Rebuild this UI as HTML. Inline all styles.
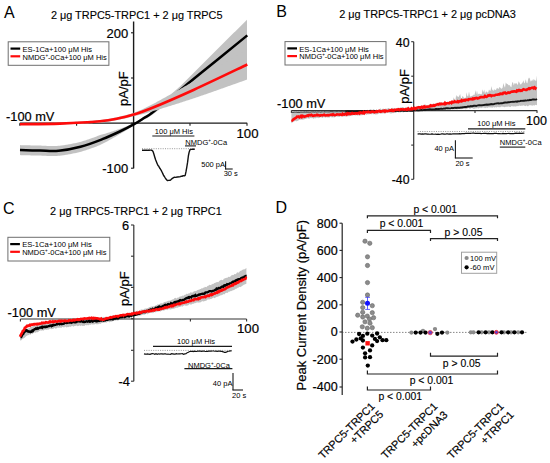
<!DOCTYPE html>
<html><head><meta charset="utf-8"><title>figure</title>
<style>html,body{margin:0;padding:0;background:#fff;width:550px;height:463px;overflow:hidden;font-family:"Liberation Sans",sans-serif}svg{display:block}</style>
</head><body>
<svg width="550" height="463" viewBox="0 0 550 463" font-family='"Liberation Sans", sans-serif'>
<rect width="550" height="463" fill="#fff"/>
<text x="4.00" y="17.50" font-size="16.00" text-anchor="start" fill="#000" stroke="#000" stroke-width="0.00" >A</text>
<text x="136.70" y="18.50" font-size="10.90" text-anchor="middle" fill="#000" stroke="#000" stroke-width="0.12" >2 μg TRPC5-TRPC1 + 2 μg TRPC5</text>
<path d="M20.00,145.10 L21.00,145.13 L22.00,145.15 L23.00,145.18 L24.00,145.21 L25.00,145.23 L26.00,145.26 L27.00,145.29 L28.00,145.32 L29.00,145.34 L30.00,145.37 L31.00,145.39 L32.00,145.42 L33.00,145.44 L34.00,145.47 L35.00,145.49 L36.00,145.52 L37.00,145.54 L38.00,145.56 L39.00,145.58 L40.00,145.60 L41.00,145.62 L42.00,145.65 L43.00,145.69 L44.00,145.74 L45.00,145.78 L46.00,145.83 L47.00,145.88 L48.00,145.93 L49.00,145.97 L50.00,146.01 L51.00,146.04 L52.00,146.05 L53.00,146.06 L54.00,146.05 L55.00,146.03 L56.00,145.99 L57.00,145.93 L58.00,145.86 L59.00,145.77 L60.00,145.67 L61.00,145.56 L62.00,145.44 L63.00,145.31 L64.00,145.17 L65.00,145.02 L66.00,144.87 L67.00,144.71 L68.00,144.54 L69.00,144.36 L70.00,144.18 L71.00,143.98 L72.00,143.79 L73.00,143.58 L74.00,143.37 L75.00,143.15 L76.00,142.92 L77.00,142.68 L78.00,142.44 L79.00,142.19 L80.00,141.93 L81.00,141.66 L82.00,141.39 L83.00,141.10 L84.00,140.80 L85.00,140.49 L86.00,140.17 L87.00,139.85 L88.00,139.51 L89.00,139.17 L90.00,138.82 L91.00,138.47 L92.00,138.11 L93.00,137.75 L94.00,137.38 L95.00,137.01 L96.00,136.63 L97.00,136.25 L98.00,135.87 L99.00,135.48 L100.00,135.09 L101.00,134.82 L102.00,134.55 L103.00,134.28 L104.00,134.00 L105.00,133.72 L106.00,133.42 L107.00,133.12 L108.00,132.82 L109.00,132.51 L110.00,132.19 L111.00,131.87 L112.00,131.54 L113.00,131.21 L114.00,130.87 L115.00,130.53 L116.00,130.18 L117.00,129.83 L118.00,129.48 L119.00,129.13 L120.00,128.78 L121.00,128.42 L122.00,128.06 L123.00,127.70 L124.00,127.32 L125.00,126.95 L126.00,126.56 L127.00,126.18 L128.00,125.78 L129.00,125.38 L130.00,124.97 L131.00,124.56 L132.00,124.13 L133.00,123.71 L134.00,123.21 L135.00,122.59 L136.00,121.94 L137.00,121.29 L138.00,120.61 L139.00,119.93 L140.00,119.23 L141.00,118.53 L142.00,117.82 L143.00,117.11 L144.00,116.40 L145.00,115.73 L146.00,115.18 L147.00,114.65 L148.00,113.97 L149.00,113.23 L150.00,112.44 L151.00,111.63 L152.00,110.81 L153.00,109.97 L154.00,109.13 L155.00,108.28 L156.00,107.43 L157.00,106.57 L158.00,105.71 L159.00,104.85 L160.00,103.98 L161.00,103.11 L162.00,102.24 L163.00,101.37 L164.00,100.50 L165.00,99.63 L166.00,98.76 L167.00,97.88 L168.00,97.01 L169.00,96.13 L170.00,95.25 L171.00,94.38 L172.00,93.50 L173.00,92.62 L174.00,91.74 L175.00,90.87 L176.00,89.99 L177.00,89.11 L178.00,88.23 L179.00,87.35 L180.00,86.47 L181.00,85.47 L182.00,84.47 L183.00,83.46 L184.00,82.46 L185.00,81.46 L186.00,80.45 L187.00,79.45 L188.00,78.45 L189.00,77.45 L190.00,76.44 L191.00,75.44 L192.00,74.44 L193.00,73.44 L194.00,72.44 L195.00,71.44 L196.00,70.44 L197.00,69.44 L198.00,68.44 L199.00,67.44 L200.00,66.44 L201.00,65.45 L202.00,64.45 L203.00,63.46 L204.00,62.46 L205.00,61.46 L206.00,60.47 L207.00,59.47 L208.00,58.48 L209.00,57.48 L210.00,56.49 L211.00,55.49 L212.00,54.50 L213.00,53.50 L214.00,52.51 L215.00,51.51 L216.00,50.52 L217.00,49.52 L218.00,48.53 L219.00,47.53 L220.00,46.54 L221.00,45.55 L222.00,44.55 L223.00,43.56 L224.00,42.56 L225.00,41.57 L226.00,40.57 L227.00,39.58 L228.00,38.59 L229.00,37.59 L230.00,36.60 L231.00,35.60 L232.00,34.61 L233.00,33.61 L234.00,32.62 L235.00,31.63 L236.00,30.63 L237.00,29.64 L238.00,28.65 L239.00,27.65 L240.00,26.66 L241.00,25.66 L242.00,24.67 L243.00,23.68 L244.00,22.68 L245.00,21.69 L246.00,20.69 L247.00,19.70 L247.00,64.64 L246.00,65.12 L245.00,65.59 L244.00,66.07 L243.00,66.55 L242.00,67.02 L241.00,67.50 L240.00,67.98 L239.00,68.46 L238.00,68.93 L237.00,69.41 L236.00,69.89 L235.00,70.37 L234.00,70.85 L233.00,71.32 L232.00,71.80 L231.00,72.28 L230.00,72.76 L229.00,73.24 L228.00,73.71 L227.00,74.19 L226.00,74.67 L225.00,75.14 L224.00,75.62 L223.00,76.10 L222.00,76.57 L221.00,77.05 L220.00,77.52 L219.00,78.00 L218.00,78.47 L217.00,78.95 L216.00,79.42 L215.00,79.90 L214.00,80.37 L213.00,80.84 L212.00,81.32 L211.00,81.79 L210.00,82.26 L209.00,82.73 L208.00,83.20 L207.00,83.67 L206.00,84.14 L205.00,84.61 L204.00,85.08 L203.00,85.54 L202.00,86.01 L201.00,86.47 L200.00,86.94 L199.00,87.40 L198.00,87.86 L197.00,88.33 L196.00,88.78 L195.00,89.24 L194.00,89.70 L193.00,90.15 L192.00,90.61 L191.00,91.06 L190.00,91.51 L189.00,91.96 L188.00,92.41 L187.00,92.86 L186.00,93.31 L185.00,93.75 L184.00,94.20 L183.00,94.64 L182.00,95.08 L181.00,95.53 L180.00,95.97 L179.00,96.41 L178.00,96.85 L177.00,97.29 L176.00,97.73 L175.00,98.16 L174.00,98.60 L173.00,99.21 L172.00,99.97 L171.00,100.73 L170.00,101.49 L169.00,102.25 L168.00,103.01 L167.00,103.77 L166.00,104.52 L165.00,105.28 L164.00,106.04 L163.00,106.79 L162.00,107.55 L161.00,108.30 L160.00,109.05 L159.00,109.80 L158.00,110.54 L157.00,111.29 L156.00,112.03 L155.00,112.77 L154.00,113.50 L153.00,114.22 L152.00,114.94 L151.00,115.65 L150.00,116.34 L149.00,117.01 L148.00,117.64 L147.00,118.20 L146.00,118.61 L145.00,119.05 L144.00,119.60 L143.00,120.19 L142.00,120.79 L141.00,121.38 L140.00,121.97 L139.00,122.55 L138.00,123.12 L137.00,123.67 L136.00,124.21 L135.00,124.74 L134.00,125.25 L133.00,125.87 L132.00,126.54 L131.00,127.20 L130.00,127.85 L129.00,128.49 L128.00,129.13 L127.00,129.77 L126.00,130.39 L125.00,131.01 L124.00,131.63 L123.00,132.24 L122.00,132.84 L121.00,133.44 L120.00,134.03 L119.00,134.62 L118.00,135.21 L117.00,135.80 L116.00,136.38 L115.00,136.97 L114.00,137.54 L113.00,138.12 L112.00,138.69 L111.00,139.26 L110.00,139.82 L109.00,140.37 L108.00,140.92 L107.00,141.46 L106.00,142.00 L105.00,142.53 L104.00,143.05 L103.00,143.57 L102.00,144.08 L101.00,144.59 L100.00,145.09 L99.00,145.48 L98.00,145.87 L97.00,146.25 L96.00,146.63 L95.00,147.01 L94.00,147.38 L93.00,147.75 L92.00,148.11 L91.00,148.47 L90.00,148.82 L89.00,149.17 L88.00,149.51 L87.00,149.85 L86.00,150.17 L85.00,150.49 L84.00,150.80 L83.00,151.10 L82.00,151.39 L81.00,151.66 L80.00,151.93 L79.00,152.19 L78.00,152.44 L77.00,152.68 L76.00,152.92 L75.00,153.15 L74.00,153.37 L73.00,153.58 L72.00,153.79 L71.00,153.98 L70.00,154.18 L69.00,154.36 L68.00,154.54 L67.00,154.71 L66.00,154.87 L65.00,155.02 L64.00,155.17 L63.00,155.31 L62.00,155.44 L61.00,155.56 L60.00,155.67 L59.00,155.77 L58.00,155.86 L57.00,155.93 L56.00,155.99 L55.00,156.03 L54.00,156.05 L53.00,156.06 L52.00,156.05 L51.00,156.04 L50.00,156.01 L49.00,155.97 L48.00,155.93 L47.00,155.88 L46.00,155.83 L45.00,155.78 L44.00,155.74 L43.00,155.69 L42.00,155.65 L41.00,155.62 L40.00,155.60 L39.00,155.58 L38.00,155.56 L37.00,155.54 L36.00,155.52 L35.00,155.49 L34.00,155.47 L33.00,155.44 L32.00,155.42 L31.00,155.39 L30.00,155.37 L29.00,155.34 L28.00,155.32 L27.00,155.29 L26.00,155.26 L25.00,155.23 L24.00,155.21 L23.00,155.18 L22.00,155.15 L21.00,155.13 L20.00,155.10 Z" stroke="none" stroke-width="0.00" fill="#c2c2c2" />
<line x1="133.60" y1="21.50" x2="133.60" y2="168.40" stroke="#1a1a1a" stroke-width="1.40" />
<line x1="131.00" y1="32.80" x2="133.60" y2="32.80" stroke="#1a1a1a" stroke-width="1.10" />
<line x1="131.00" y1="78.00" x2="133.60" y2="78.00" stroke="#1a1a1a" stroke-width="1.10" />
<line x1="131.00" y1="123.20" x2="133.60" y2="123.20" stroke="#1a1a1a" stroke-width="1.10" />
<line x1="131.00" y1="168.20" x2="133.60" y2="168.20" stroke="#1a1a1a" stroke-width="1.10" />
<line x1="19.80" y1="123.20" x2="247.20" y2="123.20" stroke="#1a1a1a" stroke-width="1.30" />
<line x1="19.80" y1="123.20" x2="19.80" y2="125.80" stroke="#1a1a1a" stroke-width="1.10" />
<line x1="76.60" y1="123.20" x2="76.60" y2="125.80" stroke="#1a1a1a" stroke-width="1.10" />
<line x1="190.00" y1="123.20" x2="190.00" y2="125.80" stroke="#1a1a1a" stroke-width="1.10" />
<line x1="247.00" y1="123.20" x2="247.00" y2="125.80" stroke="#1a1a1a" stroke-width="1.10" />
<text x="128.30" y="37.80" font-size="13.00" text-anchor="end" fill="#000" stroke="#000" stroke-width="0.20" >200</text>
<text x="128.30" y="173.20" font-size="13.00" text-anchor="end" fill="#000" stroke="#000" stroke-width="0.20" >-100</text>
<text x="6.00" y="120.50" font-size="12.80" text-anchor="start" fill="#000" stroke="#000" stroke-width="0.20" >-100 mV</text>
<text x="236.50" y="138.00" font-size="13.20" text-anchor="start" fill="#000" stroke="#000" stroke-width="0.20" >100</text>
<text transform="translate(127.8,106) rotate(-90)" font-size="13" stroke="#000" stroke-width="0.2">pA/pF</text>
<path d="M20.00,150.10 C23.33,150.18 33.55,150.48 40.00,150.60 C46.45,150.72 51.95,151.43 58.70,150.80 C65.45,150.17 73.23,148.73 80.50,146.80 C87.77,144.87 95.75,141.75 102.30,139.20 C108.85,136.65 114.57,133.97 119.80,131.50 C125.03,129.03 129.67,126.65 133.70,124.40 C137.73,122.15 140.55,120.23 144.00,118.00 C147.45,115.77 145.07,118.37 154.40,111.00 C163.73,103.63 184.52,86.40 200.00,73.80 C215.48,61.20 239.42,41.80 247.30,35.40" stroke="#000" stroke-width="2.50" fill="none" />
<path d="M20.00,123.60 L21.00,123.58 L22.00,123.56 L23.00,123.54 L24.00,123.52 L25.00,123.51 L26.00,123.49 L27.00,123.47 L28.00,123.46 L29.00,123.44 L30.00,123.42 L31.00,123.41 L32.00,123.39 L33.00,123.37 L34.00,123.35 L35.00,123.34 L36.00,123.32 L37.00,123.30 L38.00,123.28 L39.00,123.26 L40.00,123.24 L41.00,123.22 L42.00,123.20 L43.00,123.18 L44.00,123.15 L45.00,123.13 L46.00,123.11 L47.00,123.08 L48.00,123.06 L49.00,123.03 L50.00,123.00 L51.00,122.97 L52.00,122.94 L53.00,122.91 L54.00,122.88 L55.00,122.84 L56.00,122.81 L57.00,122.77 L58.00,122.73 L59.00,122.69 L60.00,122.65 L61.00,122.60 L62.00,122.56 L63.00,122.51 L64.00,122.46 L65.00,122.41 L66.00,122.36 L67.00,122.31 L68.00,122.26 L69.00,122.20 L70.00,122.15 L71.00,122.09 L72.00,122.04 L73.00,121.98 L74.00,121.92 L75.00,121.87 L76.00,121.81 L77.00,121.75 L78.00,121.68 L79.00,121.62 L80.00,121.56 L81.00,121.50 L82.00,121.43 L83.00,121.36 L84.00,121.30 L85.00,121.23 L86.00,121.16 L87.00,121.09 L88.00,121.01 L89.00,120.94 L90.00,120.86 L91.00,120.79 L92.00,120.71 L93.00,120.63 L94.00,120.55 L95.00,120.46 L96.00,120.37 L97.00,120.28 L98.00,120.19 L99.00,120.09 L100.00,120.00 L101.00,119.89 L102.00,119.78 L103.00,119.66 L104.00,119.54 L105.00,119.41 L106.00,119.27 L107.00,119.12 L108.00,118.96 L109.00,118.80 L110.00,118.63 L111.00,118.44 L112.00,118.25 L113.00,118.05 L114.00,117.84 L115.00,117.62 L116.00,117.40 L117.00,117.18 L118.00,116.95 L119.00,116.73 L120.00,116.52 L121.00,116.31 L122.00,116.09 L123.00,115.86 L124.00,115.63 L125.00,115.38 L126.00,115.13 L127.00,114.86 L128.00,114.59 L129.00,114.30 L130.00,114.01 L131.00,113.71 L132.00,113.40 L133.00,113.09 L134.00,112.74 L135.00,112.34 L136.00,111.96 L137.00,111.57 L138.00,111.18 L139.00,110.78 L140.00,110.37 L141.00,109.94 L142.00,109.49 L143.00,109.03 L144.00,108.56 L145.00,108.09 L146.00,107.60 L147.00,107.11 L148.00,106.61 L149.00,106.11 L150.00,105.60 L151.00,105.07 L152.00,104.53 L153.00,104.00 L154.00,103.46 L155.00,102.92 L156.00,102.38 L157.00,101.84 L158.00,101.29 L159.00,100.75 L160.00,100.21 L161.00,99.66 L162.00,99.11 L163.00,98.57 L164.00,98.02 L165.00,97.47 L166.00,96.92 L167.00,96.37 L168.00,95.82 L169.00,95.26 L170.00,94.71 L171.00,94.16 L172.00,93.60 L173.00,93.04 L174.00,92.49 L175.00,91.93 L176.00,91.37 L177.00,90.81 L178.00,90.25 L179.00,89.69 L180.00,89.13 L181.00,88.57 L182.00,88.00 L183.00,87.44 L184.00,86.87 L185.00,86.31 L186.00,85.74 L187.00,85.17 L188.00,84.60 L189.00,84.03 L190.00,83.46 L191.00,82.89 L192.00,82.31 L193.00,81.74 L194.00,81.16 L195.00,80.59 L196.00,80.01 L197.00,79.43 L198.00,78.84 L199.00,78.26 L200.00,77.68 L201.00,77.09 L202.00,76.50 L203.00,75.92 L204.00,75.33 L205.00,74.74 L206.00,74.15 L207.00,73.56 L208.00,72.97 L209.00,72.37 L210.00,71.78 L211.00,71.19 L212.00,70.60 L213.00,70.00 L214.00,69.41 L215.00,68.81 L216.00,68.22 L217.00,67.62 L218.00,67.03 L219.00,66.43 L220.00,65.83 L221.00,65.24 L222.00,64.64 L223.00,64.04 L224.00,63.45 L225.00,62.85 L226.00,62.25 L227.00,61.65 L228.00,61.05 L229.00,60.45 L230.00,59.86 L231.00,59.26 L232.00,58.66 L233.00,58.06 L234.00,57.46 L235.00,56.86 L236.00,56.26 L237.00,55.66 L238.00,55.06 L239.00,54.46 L240.00,53.86 L241.00,53.26 L242.00,52.67 L243.00,52.07 L244.00,51.47 L245.00,50.87 L246.00,50.27 L247.00,49.68 L247.00,79.61 L246.00,79.96 L245.00,80.31 L244.00,80.67 L243.00,81.02 L242.00,81.38 L241.00,81.74 L240.00,82.09 L239.00,82.45 L238.00,82.81 L237.00,83.16 L236.00,83.52 L235.00,83.88 L234.00,84.23 L233.00,84.59 L232.00,84.95 L231.00,85.30 L230.00,85.66 L229.00,86.02 L228.00,86.37 L227.00,86.73 L226.00,87.08 L225.00,87.44 L224.00,87.79 L223.00,88.15 L222.00,88.50 L221.00,88.86 L220.00,89.21 L219.00,89.57 L218.00,89.92 L217.00,90.27 L216.00,90.63 L215.00,90.98 L214.00,91.33 L213.00,91.68 L212.00,92.03 L211.00,92.39 L210.00,92.74 L209.00,93.08 L208.00,93.43 L207.00,93.78 L206.00,94.13 L205.00,94.48 L204.00,94.82 L203.00,95.17 L202.00,95.52 L201.00,95.86 L200.00,96.20 L199.00,96.55 L198.00,96.89 L197.00,97.23 L196.00,97.56 L195.00,97.90 L194.00,98.24 L193.00,98.57 L192.00,98.90 L191.00,99.23 L190.00,99.56 L189.00,99.89 L188.00,100.22 L187.00,100.55 L186.00,100.87 L185.00,101.20 L184.00,101.52 L183.00,101.84 L182.00,102.17 L181.00,102.49 L180.00,102.81 L179.00,103.13 L178.00,103.44 L177.00,103.76 L176.00,104.08 L175.00,104.39 L174.00,104.71 L173.00,105.02 L172.00,105.34 L171.00,105.65 L170.00,105.96 L169.00,106.27 L168.00,106.58 L167.00,106.89 L166.00,107.20 L165.00,107.51 L164.00,107.81 L163.00,108.12 L162.00,108.42 L161.00,108.73 L160.00,109.03 L159.00,109.33 L158.00,109.64 L157.00,109.94 L156.00,110.23 L155.00,110.53 L154.00,110.83 L153.00,111.12 L152.00,111.42 L151.00,111.71 L150.00,112.00 L149.00,112.31 L148.00,112.62 L147.00,112.92 L146.00,113.22 L145.00,113.51 L144.00,113.79 L143.00,114.07 L142.00,114.33 L141.00,114.58 L140.00,114.82 L139.00,115.04 L138.00,115.24 L137.00,115.43 L136.00,115.62 L135.00,115.82 L134.00,116.02 L133.00,116.28 L132.00,116.57 L131.00,116.86 L130.00,117.15 L129.00,117.42 L128.00,117.69 L127.00,117.95 L126.00,118.19 L125.00,118.43 L124.00,118.66 L123.00,118.87 L122.00,119.08 L121.00,119.28 L120.00,119.48 L119.00,119.68 L118.00,119.88 L117.00,120.08 L116.00,120.29 L115.00,120.49 L114.00,120.69 L113.00,120.88 L112.00,121.07 L111.00,121.24 L110.00,121.41 L109.00,121.57 L108.00,121.71 L107.00,121.85 L106.00,121.98 L105.00,122.10 L104.00,122.22 L103.00,122.32 L102.00,122.42 L101.00,122.52 L100.00,122.60 L99.00,122.69 L98.00,122.76 L97.00,122.84 L96.00,122.91 L95.00,122.98 L94.00,123.05 L93.00,123.11 L92.00,123.18 L91.00,123.24 L90.00,123.30 L89.00,123.36 L88.00,123.41 L87.00,123.47 L86.00,123.52 L85.00,123.57 L84.00,123.62 L83.00,123.67 L82.00,123.72 L81.00,123.77 L80.00,123.82 L79.00,123.86 L78.00,123.91 L77.00,123.95 L76.00,123.99 L75.00,124.03 L74.00,124.07 L73.00,124.11 L72.00,124.15 L71.00,124.19 L70.00,124.23 L69.00,124.27 L68.00,124.30 L67.00,124.34 L66.00,124.37 L65.00,124.40 L64.00,124.43 L63.00,124.46 L62.00,124.50 L61.00,124.52 L60.00,124.55 L59.00,124.58 L58.00,124.60 L57.00,124.62 L56.00,124.64 L55.00,124.66 L54.00,124.68 L53.00,124.69 L52.00,124.71 L51.00,124.72 L50.00,124.73 L49.00,124.74 L48.00,124.75 L47.00,124.76 L46.00,124.76 L45.00,124.77 L44.00,124.78 L43.00,124.78 L42.00,124.79 L41.00,124.79 L40.00,124.79 L39.00,124.79 L38.00,124.80 L37.00,124.80 L36.00,124.80 L35.00,124.80 L34.00,124.80 L33.00,124.80 L32.00,124.80 L31.00,124.80 L30.00,124.80 L29.00,124.80 L28.00,124.80 L27.00,124.80 L26.00,124.79 L25.00,124.79 L24.00,124.79 L23.00,124.79 L22.00,124.79 L21.00,124.80 L20.00,124.80 Z" stroke="none" stroke-width="0.00" fill="#c2c2c2" />
<path d="M20.00,124.20 C26.67,124.10 46.67,124.08 60.00,123.60 C73.33,123.12 90.00,122.23 100.00,121.30 C110.00,120.37 114.40,119.13 120.00,118.00 C125.60,116.87 128.60,116.03 133.60,114.50 C138.60,112.97 139.93,112.93 150.00,108.80 C160.07,104.67 177.78,97.08 194.00,89.70 C210.22,82.32 238.42,68.70 247.30,64.50" stroke="#ff0a0a" stroke-width="2.60" fill="none" />
<rect x="8.20" y="41.80" width="100.70" height="23.50" fill="#fff" stroke="#6e6e6e" stroke-width="1"/>
<line x1="10.50" y1="48.60" x2="20.20" y2="48.60" stroke="#000" stroke-width="2.20" />
<line x1="10.50" y1="56.30" x2="20.20" y2="56.30" stroke="#ff0a0a" stroke-width="2.20" />
<text x="22.50" y="51.80" font-size="7.60" text-anchor="start" fill="#000" stroke="#000" stroke-width="0.00" >ES-1Ca+100 μM His</text>
<text x="22.50" y="59.50" font-size="7.50" text-anchor="start" fill="#000" stroke="#000" stroke-width="0.00" >NMDG<tspan font-size="60%" dy="-3">+</tspan><tspan dy="3">-0Ca+100 μM His</tspan></text>
<text x="154.80" y="133.80" font-size="7.50" text-anchor="start" fill="#000" stroke="#000" stroke-width="0.00" >100 μM His</text>
<line x1="152.30" y1="136.00" x2="194.40" y2="136.00" stroke="#1a1a1a" stroke-width="1.10" />
<text x="185.30" y="144.60" font-size="7.50" text-anchor="start" fill="#000" stroke="#000" stroke-width="0.00" >NMDG<tspan font-size="60%" dy="-3">+</tspan><tspan dy="3">-0Ca</tspan></text>
<line x1="185.00" y1="145.90" x2="196.00" y2="145.90" stroke="#1a1a1a" stroke-width="1.10" />
<line x1="142.00" y1="148.70" x2="195.00" y2="148.70" stroke="#555" stroke-width="0.60" stroke-dasharray="1,1.3"/>
<path d="M142.00,150.21 L142.80,150.13 L143.60,150.38 L144.40,150.09 L145.20,150.32 L146.00,150.23 L146.80,150.08 L147.60,150.30 L148.40,150.07 L149.20,150.27 L150.00,150.08 L150.80,150.10 L151.60,150.26 L152.40,150.63 L153.20,151.94 L154.00,154.48 L154.80,157.18 L155.60,159.78 L156.40,161.68 L157.20,163.67 L158.00,165.54 L158.80,166.35 L159.60,168.03 L160.40,169.02 L161.20,170.41 L162.00,171.97 L162.80,173.64 L163.60,175.47 L164.40,176.50 L165.20,177.83 L166.00,178.98 L166.80,179.97 L167.60,180.62 L168.40,180.38 L169.20,180.38 L170.00,180.29 L170.80,179.87 L171.60,179.09 L172.40,178.37 L173.20,177.85 L174.00,177.34 L174.80,177.17 L175.60,177.33 L176.40,177.19 L177.20,176.87 L178.00,176.94 L178.80,176.82 L179.60,176.85 L180.40,176.61 L181.20,176.23 L182.00,176.41 L182.80,175.82 L183.60,175.80 L184.40,175.81 L185.20,175.35 L186.00,171.64 L186.80,167.02 L187.60,162.16 L188.40,155.75 L189.20,151.96 L190.00,149.68 L190.80,149.32 L191.60,149.43 L192.40,149.30 L193.20,149.22 L194.00,149.08 L194.80,149.19" stroke="#111" stroke-width="1.40" fill="none" stroke-linejoin="round"/>
<line x1="225.60" y1="161.20" x2="225.60" y2="169.20" stroke="#1a1a1a" stroke-width="1.10" />
<line x1="225.00" y1="169.00" x2="232.70" y2="169.00" stroke="#1a1a1a" stroke-width="1.10" />
<text x="225.00" y="167.20" font-size="7.50" text-anchor="end" fill="#000" stroke="#000" stroke-width="0.00" >500 pA</text>
<text x="223.70" y="176.30" font-size="7.50" text-anchor="start" fill="#000" stroke="#000" stroke-width="0.00" >30 s</text>
<text x="276.30" y="17.00" font-size="16.00" text-anchor="start" fill="#000" stroke="#000" stroke-width="0.00" >B</text>
<text x="427.60" y="18.40" font-size="10.90" text-anchor="middle" fill="#000" stroke="#000" stroke-width="0.12" >2 μg TRPC5-TRPC1 + 2 μg pcDNA3</text>
<path d="M291.40,113.30 L292.20,111.69 L293.00,113.34 L293.80,112.23 L294.60,112.35 L295.40,111.60 L296.20,111.92 L297.00,111.59 L297.80,113.02 L298.60,111.91 L299.40,112.98 L300.20,111.68 L301.00,112.21 L301.80,111.33 L302.60,112.32 L303.40,112.21 L304.20,111.35 L305.00,112.81 L305.80,111.93 L306.60,111.30 L307.40,111.46 L308.20,111.15 L309.00,111.78 L309.80,112.21 L310.60,111.72 L311.40,112.61 L312.20,111.94 L313.00,111.68 L313.80,111.34 L314.60,111.99 L315.40,111.08 L316.20,112.58 L317.00,111.67 L317.80,111.96 L318.60,111.39 L319.40,112.52 L320.20,112.30 L321.00,111.60 L321.80,111.46 L322.60,112.66 L323.40,112.71 L324.20,111.32 L325.00,111.28 L325.80,112.42 L326.60,112.33 L327.40,112.52 L328.20,111.73 L329.00,111.46 L329.80,111.57 L330.60,112.15 L331.40,111.10 L332.20,111.09 L333.00,112.00 L333.80,111.04 L334.60,111.96 L335.40,111.56 L336.20,111.15 L337.00,111.20 L337.80,111.51 L338.60,111.38 L339.40,112.36 L340.20,111.63 L341.00,110.75 L341.80,110.71 L342.60,111.54 L343.40,111.27 L344.20,112.08 L345.00,111.11 L345.80,111.57 L346.60,112.28 L347.40,111.54 L348.20,111.44 L349.00,112.31 L349.80,112.30 L350.60,112.26 L351.40,110.72 L352.20,110.88 L353.00,111.80 L353.80,111.62 L354.60,111.86 L355.40,111.93 L356.20,111.94 L357.00,110.88 L357.80,110.40 L358.60,110.03 L359.40,109.97 L360.20,110.80 L361.00,111.24 L361.80,110.24 L362.60,110.20 L363.40,111.29 L364.20,109.87 L365.00,110.80 L365.80,110.72 L366.60,111.12 L367.40,109.52 L368.20,110.87 L369.00,110.25 L369.80,109.43 L370.60,109.34 L371.40,109.45 L372.20,110.40 L373.00,109.30 L373.80,109.37 L374.60,109.85 L375.40,110.49 L376.20,109.53 L377.00,109.40 L377.80,110.40 L378.60,109.85 L379.40,109.15 L380.20,108.59 L381.00,108.70 L381.80,109.92 L382.60,108.73 L383.40,108.52 L384.20,109.92 L385.00,108.57 L385.80,108.71 L386.60,108.87 L387.40,108.87 L388.20,108.06 L389.00,107.89 L389.80,108.84 L390.60,108.92 L391.40,108.38 L392.20,107.89 L393.00,107.64 L393.80,108.64 L394.60,107.70 L395.40,108.90 L396.20,108.39 L397.00,108.53 L397.80,107.46 L398.60,108.67 L399.40,108.24 L400.20,107.06 L401.00,107.90 L401.80,107.06 L402.60,107.02 L403.40,107.20 L404.20,107.66 L405.00,107.95 L405.80,107.82 L406.60,107.06 L407.40,107.57 L408.20,106.97 L409.00,107.65 L409.80,107.21 L410.60,107.93 L411.40,107.95 L412.20,107.68 L413.00,106.63 L413.80,106.46 L414.60,106.91 L415.40,107.32 L416.20,106.99 L417.00,106.48 L417.80,106.36 L418.60,105.61 L419.40,106.75 L420.20,106.63 L421.00,106.28 L421.80,105.54 L422.60,105.81 L423.40,105.13 L424.20,106.01 L425.00,104.84 L425.80,104.61 L426.60,105.74 L427.40,105.67 L428.20,105.20 L429.00,104.59 L429.80,104.18 L430.60,103.77 L431.40,103.95 L432.20,103.77 L433.00,104.18 L433.80,103.35 L434.60,103.83 L435.40,104.61 L436.20,103.04 L437.00,102.73 L437.80,103.47 L438.60,103.07 L439.40,102.88 L440.20,102.58 L441.00,102.87 L441.80,102.23 L442.60,102.44 L443.40,103.13 L444.20,101.54 L445.00,102.21 L445.80,101.94 L446.60,102.65 L447.40,101.19 L448.20,102.10 L449.00,101.92 L449.80,101.62 L450.60,100.87 L451.40,100.80 L452.20,101.20 L453.00,99.98 L453.80,97.34 L454.60,99.99 L455.40,100.41 L456.20,94.67 L457.00,96.91 L457.80,96.07 L458.60,97.17 L459.40,95.49 L460.20,94.11 L461.00,98.22 L461.80,98.18 L462.60,95.70 L463.40,96.99 L464.20,98.54 L465.00,97.56 L465.80,97.97 L466.60,92.36 L467.40,96.31 L468.20,95.88 L469.00,91.58 L469.80,95.60 L470.60,96.68 L471.40,95.92 L472.20,95.71 L473.00,95.59 L473.80,94.41 L474.60,94.91 L475.40,90.07 L476.20,94.52 L477.00,90.57 L477.80,94.79 L478.60,93.87 L479.40,93.71 L480.20,93.94 L481.00,94.30 L481.80,94.05 L482.60,89.13 L483.40,92.62 L484.20,89.42 L485.00,93.64 L485.80,91.67 L486.60,91.59 L487.40,92.40 L488.20,92.61 L489.00,89.57 L489.80,90.78 L490.60,90.77 L491.40,85.93 L492.20,90.52 L493.00,89.32 L493.80,91.22 L494.60,89.09 L495.40,90.37 L496.20,89.38 L497.00,87.65 L497.80,88.41 L498.60,88.99 L499.40,87.07 L500.20,87.45 L501.00,88.42 L501.80,88.74 L502.60,87.84 L503.40,83.10 L504.20,86.09 L505.00,87.77 L505.80,82.62 L506.60,83.63 L507.40,83.91 L508.20,84.70 L509.00,85.47 L509.80,84.99 L510.60,86.69 L511.40,87.14 L512.20,82.34 L513.00,82.55 L513.80,85.53 L514.60,82.93 L515.40,83.86 L516.20,83.01 L517.00,84.08 L517.80,84.89 L518.60,81.26 L519.40,82.42 L520.20,84.34 L521.00,84.40 L521.80,83.16 L522.60,82.41 L523.40,80.18 L524.20,83.56 L525.00,82.15 L525.80,79.28 L526.60,82.97 L527.40,83.23 L528.20,78.97 L529.00,77.40 L529.80,78.40 L530.60,81.58 L531.40,80.95 L532.20,79.54 L533.00,81.31 L533.80,78.65 L534.60,80.34 L535.40,80.54 L536.20,81.08 L537.00,75.58 L537.00,105.29 L536.20,105.11 L535.40,104.80 L534.60,105.38 L533.80,105.52 L533.00,105.00 L532.20,105.96 L531.40,105.26 L530.60,105.17 L529.80,105.13 L529.00,105.19 L528.20,106.15 L527.40,106.22 L526.60,105.35 L525.80,106.35 L525.00,105.65 L524.20,105.85 L523.40,105.37 L522.60,105.84 L521.80,105.48 L521.00,105.94 L520.20,105.71 L519.40,105.50 L518.60,106.02 L517.80,106.30 L517.00,105.73 L516.20,106.54 L515.40,106.54 L514.60,106.33 L513.80,106.74 L513.00,106.05 L512.20,106.57 L511.40,105.93 L510.60,107.03 L509.80,106.91 L509.00,106.61 L508.20,106.47 L507.40,106.83 L506.60,106.65 L505.80,106.65 L505.00,107.05 L504.20,107.26 L503.40,106.63 L502.60,106.79 L501.80,106.45 L501.00,106.85 L500.20,107.37 L499.40,107.27 L498.60,107.28 L497.80,106.78 L497.00,107.32 L496.20,107.55 L495.40,107.10 L494.60,107.86 L493.80,106.78 L493.00,107.75 L492.20,107.59 L491.40,107.46 L490.60,107.58 L489.80,107.22 L489.00,107.42 L488.20,107.15 L487.40,107.95 L486.60,107.59 L485.80,107.72 L485.00,108.35 L484.20,107.60 L483.40,107.54 L482.60,107.38 L481.80,107.72 L481.00,108.35 L480.20,107.62 L479.40,107.96 L478.60,108.63 L477.80,107.55 L477.00,108.66 L476.20,107.98 L475.40,108.38 L474.60,108.76 L473.80,108.82 L473.00,108.68 L472.20,107.83 L471.40,108.07 L470.60,108.45 L469.80,108.90 L469.00,108.10 L468.20,108.00 L467.40,108.49 L466.60,108.97 L465.80,109.23 L465.00,109.21 L464.20,108.26 L463.40,108.49 L462.60,109.07 L461.80,108.91 L461.00,109.26 L460.20,108.76 L459.40,109.32 L458.60,108.97 L457.80,109.61 L457.00,109.35 L456.20,109.43 L455.40,109.19 L454.60,109.81 L453.80,108.71 L453.00,109.43 L452.20,108.91 L451.40,109.11 L450.60,109.62 L449.80,109.82 L449.00,109.47 L448.20,109.83 L447.40,109.63 L446.60,109.33 L445.80,110.07 L445.00,109.11 L444.20,110.23 L443.40,109.21 L442.60,110.37 L441.80,109.56 L441.00,110.34 L440.20,109.49 L439.40,109.45 L438.60,110.05 L437.80,110.35 L437.00,109.80 L436.20,109.94 L435.40,109.74 L434.60,110.69 L433.80,110.73 L433.00,109.88 L432.20,110.08 L431.40,110.93 L430.60,110.21 L429.80,110.95 L429.00,110.65 L428.20,110.79 L427.40,110.61 L426.60,110.74 L425.80,111.17 L425.00,110.68 L424.20,111.22 L423.40,110.26 L422.60,110.69 L421.80,111.41 L421.00,110.60 L420.20,111.40 L419.40,111.23 L418.60,110.75 L417.80,110.77 L417.00,110.45 L416.20,111.56 L415.40,111.58 L414.60,110.72 L413.80,110.77 L413.00,111.79 L412.20,111.25 L411.40,111.32 L410.60,112.01 L409.80,111.04 L409.00,111.57 L408.20,111.85 L407.40,111.15 L406.60,111.50 L405.80,111.37 L405.00,112.00 L404.20,111.89 L403.40,112.55 L402.60,112.31 L401.80,111.80 L401.00,112.35 L400.20,112.52 L399.40,112.26 L398.60,112.49 L397.80,111.92 L397.00,111.90 L396.20,112.74 L395.40,112.97 L394.60,112.64 L393.80,113.07 L393.00,113.23 L392.20,112.99 L391.40,113.46 L390.60,113.40 L389.80,113.30 L389.00,112.74 L388.20,112.57 L387.40,112.90 L386.60,112.88 L385.80,113.16 L385.00,113.13 L384.20,113.48 L383.40,113.20 L382.60,113.49 L381.80,113.34 L381.00,114.07 L380.20,113.43 L379.40,113.34 L378.60,113.73 L377.80,114.30 L377.00,114.19 L376.20,114.43 L375.40,114.47 L374.60,114.12 L373.80,114.49 L373.00,113.69 L372.20,114.33 L371.40,114.15 L370.60,113.91 L369.80,114.19 L369.00,114.29 L368.20,114.44 L367.40,114.17 L366.60,115.11 L365.80,114.30 L365.00,114.34 L364.20,115.01 L363.40,114.70 L362.60,114.96 L361.80,115.45 L361.00,114.70 L360.20,115.81 L359.40,115.44 L358.60,115.28 L357.80,115.68 L357.00,115.28 L356.20,115.13 L355.40,115.58 L354.60,115.32 L353.80,115.29 L353.00,115.36 L352.20,116.04 L351.40,115.38 L350.60,115.52 L349.80,116.08 L349.00,116.50 L348.20,116.06 L347.40,116.36 L346.60,116.31 L345.80,116.52 L345.00,116.58 L344.20,116.36 L343.40,116.40 L342.60,116.44 L341.80,116.02 L341.00,116.07 L340.20,116.52 L339.40,117.03 L338.60,116.67 L337.80,117.10 L337.00,116.36 L336.20,116.44 L335.40,117.12 L334.60,117.29 L333.80,117.38 L333.00,116.91 L332.20,117.47 L331.40,117.30 L330.60,116.52 L329.80,117.55 L329.00,117.62 L328.20,117.44 L327.40,117.43 L326.60,117.36 L325.80,117.39 L325.00,117.73 L324.20,116.93 L323.40,117.17 L322.60,117.89 L321.80,117.64 L321.00,116.88 L320.20,117.51 L319.40,117.94 L318.60,118.22 L317.80,117.52 L317.00,118.13 L316.20,117.59 L315.40,118.53 L314.60,118.09 L313.80,118.66 L313.00,118.59 L312.20,117.80 L311.40,118.32 L310.60,117.99 L309.80,118.22 L309.00,119.05 L308.20,118.20 L307.40,118.22 L306.60,118.49 L305.80,119.08 L305.00,118.87 L304.20,119.51 L303.40,119.57 L302.60,119.76 L301.80,119.55 L301.00,119.60 L300.20,119.75 L299.40,119.83 L298.60,120.25 L297.80,121.04 L297.00,120.84 L296.20,121.40 L295.40,120.82 L294.60,121.15 L293.80,121.38 L293.00,122.05 L292.20,122.83 L291.40,123.20 Z" stroke="none" stroke-width="0.00" fill="#c2c2c2" />
<line x1="413.70" y1="41.70" x2="413.70" y2="179.30" stroke="#333" stroke-width="1.20" />
<line x1="411.20" y1="41.70" x2="413.70" y2="41.70" stroke="#333" stroke-width="1.10" />
<line x1="411.20" y1="76.20" x2="413.70" y2="76.20" stroke="#333" stroke-width="1.10" />
<line x1="411.20" y1="110.60" x2="413.70" y2="110.60" stroke="#333" stroke-width="1.10" />
<line x1="411.20" y1="145.10" x2="413.70" y2="145.10" stroke="#333" stroke-width="1.10" />
<line x1="411.20" y1="179.30" x2="413.70" y2="179.30" stroke="#333" stroke-width="1.10" />
<line x1="291.40" y1="110.60" x2="537.20" y2="110.60" stroke="#333" stroke-width="1.10" />
<line x1="291.40" y1="110.60" x2="291.40" y2="113.00" stroke="#333" stroke-width="1.10" />
<line x1="352.50" y1="110.60" x2="352.50" y2="113.00" stroke="#333" stroke-width="1.10" />
<line x1="475.00" y1="110.60" x2="475.00" y2="113.00" stroke="#333" stroke-width="1.10" />
<line x1="537.00" y1="110.60" x2="537.00" y2="113.00" stroke="#333" stroke-width="1.10" />
<text x="409.50" y="46.60" font-size="12.30" text-anchor="end" fill="#000" stroke="#000" stroke-width="0.20" >40</text>
<text x="409.50" y="183.60" font-size="12.30" text-anchor="end" fill="#000" stroke="#000" stroke-width="0.20" >-40</text>
<text x="277.00" y="108.20" font-size="12.80" text-anchor="start" fill="#000" stroke="#000" stroke-width="0.20" >-100 mV</text>
<text x="526.00" y="125.30" font-size="12.50" text-anchor="start" fill="#000" stroke="#000" stroke-width="0.20" >100</text>
<text transform="translate(408.9,103.8) rotate(-90)" font-size="13" stroke="#000" stroke-width="0.2">pA/pF</text>
<path d="M345.00,111.46 L346.00,111.65 L347.00,111.48 L348.00,111.33 L349.00,111.60 L350.00,111.24 L351.00,111.61 L352.00,111.31 L353.00,111.49 L354.00,111.65 L355.00,111.44 L356.00,111.46 L357.00,111.28 L358.00,111.11 L359.00,111.11 L360.00,111.15 L361.00,111.37 L362.00,111.27 L363.00,111.29 L364.00,111.47 L365.00,111.08 L366.00,111.11 L367.00,111.31 L368.00,110.98 L369.00,110.96 L370.00,111.12 L371.00,110.98 L372.00,111.09 L373.00,111.01 L374.00,111.18 L375.00,111.17 L376.00,110.96 L377.00,111.16 L378.00,111.07 L379.00,110.89 L380.00,111.28 L381.00,110.92 L382.00,110.85 L383.00,110.81 L384.00,111.07 L385.00,111.18 L386.00,111.12 L387.00,110.91 L388.00,110.83 L389.00,110.69 L390.00,110.99 L391.00,110.94 L392.00,110.82 L393.00,110.95 L394.00,110.84 L395.00,111.07 L396.00,110.96 L397.00,110.70 L398.00,111.01 L399.00,110.57 L400.00,110.80 L401.00,110.73 L402.00,110.63 L403.00,110.52 L404.00,110.87 L405.00,110.47 L406.00,110.73 L407.00,110.91 L408.00,110.50 L409.00,110.51 L410.00,110.70 L411.00,110.64 L412.00,110.69 L413.00,110.77 L414.00,110.42 L415.00,110.42 L416.00,110.35 L417.00,110.15 L418.00,110.51 L419.00,110.39 L420.00,110.29 L421.00,109.86 L422.00,110.22 L423.00,110.10 L424.00,109.89 L425.00,109.96 L426.00,109.75 L427.00,109.57 L428.00,109.45 L429.00,109.44 L430.00,109.28 L431.00,109.36 L432.00,109.50 L433.00,109.41 L434.00,109.41 L435.00,109.28 L436.00,108.99 L437.00,109.07 L438.00,108.94 L439.00,109.05 L440.00,108.85 L441.00,108.65 L442.00,108.78 L443.00,108.87 L444.00,108.43 L445.00,108.69 L446.00,108.19 L447.00,108.25 L448.00,108.17 L449.00,108.36 L450.00,108.39 L451.00,108.23 L452.00,107.95 L453.00,108.16 L454.00,107.82 L455.00,107.70 L456.00,107.97 L457.00,107.77 L458.00,107.73 L459.00,107.65 L460.00,107.74 L461.00,107.38 L462.00,107.46 L463.00,107.28 L464.00,107.25 L465.00,106.94 L466.00,106.97 L467.00,106.79 L468.00,106.55 L469.00,106.40 L470.00,106.50 L471.00,106.12 L472.00,106.43 L473.00,105.94 L474.00,105.77 L475.00,105.71 L476.00,106.01 L477.00,105.61 L478.00,105.40 L479.00,105.24 L480.00,105.14 L481.00,105.36 L482.00,105.22 L483.00,105.15 L484.00,105.06 L485.00,104.62 L486.00,104.78 L487.00,104.56 L488.00,104.68 L489.00,104.57 L490.00,104.50 L491.00,103.98 L492.00,104.28 L493.00,104.19 L494.00,104.10 L495.00,103.58 L496.00,103.52 L497.00,103.37 L498.00,103.22 L499.00,103.52 L500.00,103.40 L501.00,103.20 L502.00,103.19 L503.00,102.99 L504.00,102.71 L505.00,102.51 L506.00,102.40 L507.00,102.62 L508.00,102.24 L509.00,102.19 L510.00,102.14 L511.00,101.83 L512.00,101.84 L513.00,101.75 L514.00,101.86 L515.00,101.58 L516.00,101.45 L517.00,101.66 L518.00,101.33 L519.00,101.39 L520.00,101.17 L521.00,100.77 L522.00,100.85 L523.00,100.76 L524.00,100.82 L525.00,100.50 L526.00,100.57 L527.00,100.38 L528.00,100.12 L529.00,100.33 L530.00,99.84 L531.00,100.10 L532.00,99.67 L533.00,99.48 L534.00,99.47 L535.00,99.64 L536.00,99.65 L537.00,99.05" stroke="#151515" stroke-width="1.90" fill="none" />
<path d="M291.40,112.30 L292.40,112.28 L293.40,112.39 L294.40,112.13 L295.40,112.24 L296.40,112.17 L297.40,112.35 L298.40,112.10 L299.40,112.36 L300.40,112.08 L301.40,112.04 L302.40,112.22 L303.40,112.13 L304.40,111.96 L305.40,112.15 L306.40,111.92 L307.40,112.18 L308.40,112.13 L309.40,112.16 L310.40,112.08 L311.40,111.95 L312.40,111.96 L313.40,111.94 L314.40,112.12 L315.40,111.79 L316.40,112.10 L317.40,111.74 L318.40,111.79 L319.40,111.80 L320.40,112.04 L321.40,111.87 L322.40,111.81 L323.40,111.99 L324.40,111.72 L325.40,111.79 L326.40,111.81 L327.40,111.88 L328.40,111.87 L329.40,111.81 L330.40,111.68 L331.40,111.65 L332.40,111.57 L333.40,111.83 L334.40,111.75 L335.40,111.76 L336.40,111.52 L337.40,111.61 L338.40,111.73 L339.40,111.64 L340.40,111.44 L341.40,111.57 L342.40,111.72 L343.40,111.45 L344.40,111.42 L345.40,111.45" stroke="#555" stroke-width="1.20" fill="none" />
<path d="M291.40,120.06 L292.20,120.45 L293.00,119.75 L293.80,119.11 L294.60,118.59 L295.40,118.05 L296.20,117.67 L297.00,116.56 L297.80,116.68 L298.60,116.41 L299.40,117.34 L300.20,116.93 L301.00,116.02 L301.80,117.05 L302.60,115.84 L303.40,116.11 L304.20,116.80 L305.00,116.46 L305.80,116.29 L306.60,115.81 L307.40,115.41 L308.20,115.89 L309.00,115.10 L309.80,115.14 L310.60,115.33 L311.40,114.85 L312.20,115.30 L313.00,115.78 L313.80,115.62 L314.60,115.35 L315.40,115.49 L316.20,115.25 L317.00,114.80 L317.80,115.37 L318.60,115.09 L319.40,115.50 L320.20,115.69 L321.00,115.04 L321.80,115.20 L322.60,115.40 L323.40,114.95 L324.20,114.67 L325.00,115.29 L325.80,115.47 L326.60,115.30 L327.40,115.18 L328.20,115.35 L329.00,115.10 L329.80,115.02 L330.60,114.75 L331.40,114.54 L332.20,114.93 L333.00,114.21 L333.80,114.60 L334.60,115.05 L335.40,114.93 L336.20,114.80 L337.00,114.28 L337.80,114.47 L338.60,114.49 L339.40,114.68 L340.20,114.37 L341.00,114.65 L341.80,114.92 L342.60,113.88 L343.40,114.43 L344.20,114.53 L345.00,113.96 L345.80,114.03 L346.60,114.59 L347.40,113.31 L348.20,113.90 L349.00,113.34 L349.80,114.09 L350.60,114.23 L351.40,113.62 L352.20,113.01 L353.00,113.56 L353.80,113.46 L354.60,113.62 L355.40,113.29 L356.20,113.39 L357.00,113.58 L357.80,113.11 L358.60,112.91 L359.40,113.54 L360.20,112.52 L361.00,113.07 L361.80,112.63 L362.60,113.05 L363.40,112.15 L364.20,113.21 L365.00,112.33 L365.80,111.87 L366.60,112.09 L367.40,112.19 L368.20,111.63 L369.00,112.09 L369.80,112.03 L370.60,112.33 L371.40,111.81 L372.20,111.64 L373.00,111.52 L373.80,112.13 L374.60,112.32 L375.40,111.72 L376.20,111.26 L377.00,111.95 L377.80,111.36 L378.60,111.06 L379.40,110.89 L380.20,111.67 L381.00,111.64 L381.80,111.35 L382.60,111.08 L383.40,111.13 L384.20,110.63 L385.00,111.53 L385.80,110.67 L386.60,110.98 L387.40,111.15 L388.20,111.08 L389.00,110.57 L389.80,110.28 L390.60,110.54 L391.40,109.93 L392.20,110.79 L393.00,110.10 L393.80,110.68 L394.60,109.86 L395.40,109.94 L396.20,109.71 L397.00,109.88 L397.80,109.50 L398.60,109.20 L399.40,110.07 L400.20,109.43 L401.00,109.32 L401.80,109.33 L402.60,109.50 L403.40,109.37 L404.20,109.58 L405.00,109.54 L405.80,109.09 L406.60,109.77 L407.40,109.61 L408.20,108.51 L409.00,109.44 L409.80,109.48 L410.60,109.26 L411.40,108.36 L412.20,109.19 L413.00,108.87 L413.80,107.94 L414.60,107.81 L415.40,108.90 L416.20,108.39 L417.00,107.73 L417.80,107.41 L418.60,107.33 L419.40,107.32 L420.20,107.90 L421.00,107.21 L421.80,106.83 L422.60,107.68 L423.40,107.40 L424.20,106.46 L425.00,107.27 L425.80,106.78 L426.60,106.87 L427.40,106.60 L428.20,106.76 L429.00,106.49 L429.80,106.43 L430.60,105.47 L431.40,105.98 L432.20,105.64 L433.00,105.79 L433.80,105.26 L434.60,105.71 L435.40,105.16 L436.20,104.65 L437.00,104.48 L437.80,104.23 L438.60,104.56 L439.40,103.87 L440.20,104.27 L441.00,103.72 L441.80,104.04 L442.60,103.92 L443.40,103.85 L444.20,104.14 L445.00,102.89 L445.80,103.85 L446.60,103.24 L447.40,103.23 L448.20,103.23 L449.00,103.33 L449.80,102.60 L450.60,102.53 L451.40,103.10 L452.20,101.82 L453.00,102.42 L453.80,102.29 L454.60,101.37 L455.40,102.00 L456.20,101.97 L457.00,102.16 L457.80,101.24 L458.60,101.94 L459.40,101.19 L460.20,101.02 L461.00,101.41 L461.80,100.15 L462.60,100.90 L463.40,100.63 L464.20,100.12 L465.00,100.66 L465.80,99.88 L466.60,99.87 L467.40,99.80 L468.20,99.98 L469.00,99.11 L469.80,99.26 L470.60,99.10 L471.40,99.13 L472.20,99.35 L473.00,98.51 L473.80,99.07 L474.60,98.37 L475.40,98.36 L476.20,97.92 L477.00,98.08 L477.80,98.55 L478.60,97.99 L479.40,98.03 L480.20,97.29 L481.00,97.13 L481.80,96.97 L482.60,97.20 L483.40,97.12 L484.20,97.18 L485.00,96.07 L485.80,96.81 L486.60,96.88 L487.40,96.30 L488.20,95.52 L489.00,95.70 L489.80,95.18 L490.60,95.27 L491.40,96.08 L492.20,95.54 L493.00,95.46 L493.80,95.49 L494.60,95.51 L495.40,94.98 L496.20,94.84 L497.00,94.71 L497.80,94.66 L498.60,94.39 L499.40,94.36 L500.20,93.61 L501.00,94.06 L501.80,93.65 L502.60,93.90 L503.40,92.90 L504.20,92.87 L505.00,92.54 L505.80,93.36 L506.60,93.40 L507.40,92.92 L508.20,92.41 L509.00,92.85 L509.80,92.67 L510.60,92.23 L511.40,91.70 L512.20,91.61 L513.00,91.63 L513.80,91.35 L514.60,91.36 L515.40,91.49 L516.20,91.73 L517.00,90.45 L517.80,90.97 L518.60,90.14 L519.40,90.11 L520.20,90.86 L521.00,90.42 L521.80,90.72 L522.60,89.97 L523.40,89.27 L524.20,89.61 L525.00,89.73 L525.80,90.04 L526.60,89.96 L527.40,89.16 L528.20,88.94 L529.00,88.39 L529.80,88.96 L530.60,88.25 L531.40,88.03 L532.20,87.72 L533.00,87.56 L533.80,88.30 L534.60,87.43 L535.40,88.39 L536.20,87.11" stroke="#ff0a0a" stroke-width="2.60" fill="none" />
<rect x="285.00" y="41.60" width="101.00" height="23.40" fill="#fff" stroke="#6e6e6e" stroke-width="1"/>
<line x1="287.30" y1="48.40" x2="297.00" y2="48.40" stroke="#000" stroke-width="2.20" />
<line x1="287.30" y1="56.10" x2="297.00" y2="56.10" stroke="#ff0a0a" stroke-width="2.20" />
<text x="299.30" y="51.60" font-size="7.60" text-anchor="start" fill="#000" stroke="#000" stroke-width="0.00" >ES-1Ca+100 μM His</text>
<text x="299.30" y="59.30" font-size="7.50" text-anchor="start" fill="#000" stroke="#000" stroke-width="0.00" >NMDG<tspan font-size="60%" dy="-3">+</tspan><tspan dy="3">-0Ca+100 μM His</tspan></text>
<text x="477.30" y="126.30" font-size="7.50" text-anchor="start" fill="#000" stroke="#000" stroke-width="0.00" >100 μM His</text>
<line x1="468.00" y1="128.90" x2="525.30" y2="128.90" stroke="#1a1a1a" stroke-width="1.10" />
<line x1="417.60" y1="131.50" x2="525.00" y2="131.50" stroke="#555" stroke-width="0.60" stroke-dasharray="1,1.3"/>
<path d="M417.60,134.15 L418.80,133.86 L420.00,133.83 L421.20,134.12 L422.40,133.94 L423.60,134.15 L424.80,133.94 L426.00,133.90 L427.20,134.20 L428.40,134.18 L429.60,134.25 L430.80,134.21 L432.00,133.96 L433.20,134.19 L434.40,134.23 L435.60,134.14 L436.80,134.34 L438.00,134.08 L439.20,134.38 L440.40,134.28 L441.60,133.97 L442.80,133.95 L444.00,134.18 L445.20,134.22 L446.40,133.90 L447.60,133.97 L448.80,134.12 L450.00,133.87 L451.20,134.12 L452.40,133.95 L453.60,133.75 L454.80,133.85 L456.00,133.91 L457.20,133.83 L458.40,133.90 L459.60,133.67 L460.80,133.87 L462.00,133.63 L463.20,133.67 L464.40,133.59 L465.60,133.43 L466.80,133.35 L468.00,133.43 L469.20,133.43 L470.40,133.32 L471.60,133.25 L472.80,133.15 L474.00,133.08 L475.20,133.46 L476.40,133.37 L477.60,133.43 L478.80,133.25 L480.00,133.38 L481.20,133.54 L482.40,133.50 L483.60,133.42 L484.80,133.32 L486.00,133.38 L487.20,133.58 L488.40,133.40 L489.60,133.54 L490.80,133.52 L492.00,133.65 L493.20,133.63 L494.40,133.44 L495.60,133.34 L496.80,133.46 L498.00,133.54 L499.20,133.62 L500.40,133.72 L501.60,133.73 L502.80,133.37 L504.00,133.67 L505.20,133.64 L506.40,133.64 L507.60,133.51 L508.80,133.37 L510.00,133.58 L511.20,133.54 L512.40,133.48 L513.60,133.55 L514.80,133.30 L516.00,133.18 L517.20,133.35 L518.40,133.42 L519.60,133.17 L520.80,133.37 L522.00,133.42 L523.20,133.12 L524.40,133.25" stroke="#111" stroke-width="1.20" fill="none" />
<text x="499.80" y="144.90" font-size="7.50" text-anchor="start" fill="#000" stroke="#000" stroke-width="0.00" >NMDG<tspan font-size="60%" dy="-3">+</tspan><tspan dy="3">-0Ca</tspan></text>
<line x1="499.80" y1="147.10" x2="525.30" y2="147.10" stroke="#1a1a1a" stroke-width="1.10" />
<line x1="455.40" y1="140.20" x2="455.40" y2="158.30" stroke="#1a1a1a" stroke-width="1.10" />
<line x1="454.90" y1="158.00" x2="472.70" y2="158.00" stroke="#1a1a1a" stroke-width="1.10" />
<text x="454.00" y="151.20" font-size="7.50" text-anchor="end" fill="#000" stroke="#000" stroke-width="0.00" >40 pA</text>
<text x="455.40" y="166.00" font-size="7.50" text-anchor="start" fill="#000" stroke="#000" stroke-width="0.00" >20 s</text>
<text x="3.00" y="214.00" font-size="16.00" text-anchor="start" fill="#000" stroke="#000" stroke-width="0.00" >C</text>
<text x="135.90" y="214.50" font-size="10.90" text-anchor="middle" fill="#000" stroke="#000" stroke-width="0.12" >2 μg TRPC5-TRPC1 + 2 μg TRPC1</text>
<path d="M20.00,334.21 L20.80,333.06 L21.60,333.08 L22.40,332.09 L23.20,331.88 L24.00,330.59 L24.80,330.82 L25.60,329.83 L26.40,329.41 L27.20,328.47 L28.00,328.66 L28.80,328.10 L29.60,327.69 L30.40,326.79 L31.20,326.86 L32.00,326.84 L32.80,325.94 L33.60,325.84 L34.40,325.14 L35.20,326.00 L36.00,325.11 L36.80,324.57 L37.60,324.51 L38.40,324.67 L39.20,324.68 L40.00,323.36 L40.80,323.33 L41.60,322.98 L42.40,323.78 L43.20,323.71 L44.00,322.48 L44.80,322.73 L45.60,323.26 L46.40,322.64 L47.20,322.98 L48.00,322.17 L48.80,321.77 L49.60,322.65 L50.40,321.39 L51.20,321.66 L52.00,322.22 L52.80,321.10 L53.60,321.80 L54.40,322.04 L55.20,320.94 L56.00,321.81 L56.80,320.96 L57.60,321.43 L58.40,320.83 L59.20,320.52 L60.00,320.50 L60.80,320.40 L61.60,320.17 L62.40,320.32 L63.20,321.13 L64.00,321.07 L64.80,320.95 L65.60,320.35 L66.40,320.87 L67.20,320.44 L68.00,320.03 L68.80,320.13 L69.60,319.67 L70.40,319.50 L71.20,320.04 L72.00,320.36 L72.80,319.75 L73.60,319.52 L74.40,319.53 L75.20,319.66 L76.00,320.09 L76.80,320.12 L77.60,319.96 L78.40,319.08 L79.20,319.11 L80.00,318.94 L80.80,319.83 L81.60,319.69 L82.40,318.86 L83.20,318.52 L84.00,318.74 L84.80,318.35 L85.60,318.67 L86.40,318.20 L87.20,318.76 L88.00,318.59 L88.80,318.26 L89.60,318.09 L90.40,318.78 L91.20,318.02 L92.00,317.82 L92.80,318.24 L93.60,317.82 L94.40,318.34 L95.20,318.12 L96.00,317.41 L96.80,317.74 L97.60,317.24 L98.40,317.48 L99.20,318.03 L100.00,316.92 L100.80,317.38 L101.60,317.03 L102.40,317.61 L103.20,316.72 L104.00,317.14 L104.80,316.96 L105.60,316.86 L106.40,317.00 L107.20,317.09 L108.00,316.81 L108.80,316.76 L109.60,316.81 L110.40,316.26 L111.20,316.21 L112.00,315.49 L112.80,315.64 L113.60,315.39 L114.40,316.14 L115.20,315.16 L116.00,315.17 L116.80,315.54 L117.60,315.33 L118.40,314.71 L119.20,315.32 L120.00,314.48 L120.80,314.80 L121.60,314.21 L122.40,314.09 L123.20,314.81 L124.00,314.32 L124.80,313.67 L125.60,314.44 L126.40,313.66 L127.20,313.62 L128.00,313.94 L128.80,313.05 L129.60,312.86 L130.40,313.45 L131.20,313.18 L132.00,312.91 L132.80,312.32 L133.60,312.62 L134.40,311.80 L135.20,311.53 L136.00,310.96 L136.80,311.27 L137.60,310.61 L138.40,311.15 L139.20,310.75 L140.00,310.82 L140.80,309.57 L141.60,309.61 L142.40,309.38 L143.20,309.92 L144.00,308.87 L144.80,308.84 L145.60,308.41 L146.40,308.59 L147.20,308.27 L148.00,307.92 L148.80,307.60 L149.60,306.96 L150.40,306.68 L151.20,306.74 L152.00,306.28 L152.80,306.38 L153.60,306.18 L154.40,305.96 L155.20,305.76 L156.00,305.29 L156.80,304.92 L157.60,304.37 L158.40,304.42 L159.20,304.23 L160.00,303.67 L160.80,303.25 L161.60,303.27 L162.40,303.59 L163.20,303.05 L164.00,301.92 L164.80,302.08 L165.60,301.73 L166.40,301.86 L167.20,300.97 L168.00,301.30 L168.80,300.53 L169.60,300.65 L170.40,300.57 L171.20,299.88 L172.00,299.87 L172.80,299.26 L173.60,299.25 L174.40,298.27 L175.20,297.83 L176.00,298.24 L176.80,298.41 L177.60,297.47 L178.40,297.72 L179.20,296.84 L180.00,296.64 L180.80,296.15 L181.60,296.17 L182.40,295.60 L183.20,295.93 L184.00,295.15 L184.80,294.69 L185.60,294.71 L186.40,293.83 L187.20,293.81 L188.00,294.13 L188.80,293.07 L189.60,293.61 L190.40,292.27 L191.20,292.51 L192.00,292.54 L192.80,292.50 L193.60,291.62 L194.40,291.15 L195.20,291.09 L196.00,291.20 L196.80,290.39 L197.60,289.89 L198.40,289.81 L199.20,289.87 L200.00,289.09 L200.80,288.94 L201.60,288.28 L202.40,288.53 L203.20,287.62 L204.00,287.91 L204.80,286.73 L205.60,287.10 L206.40,287.14 L207.20,286.13 L208.00,285.65 L208.80,285.58 L209.60,284.87 L210.40,285.04 L211.20,285.18 L212.00,283.71 L212.80,284.27 L213.60,283.82 L214.40,283.02 L215.20,283.02 L216.00,282.21 L216.80,282.30 L217.60,282.06 L218.40,282.13 L219.20,281.08 L220.00,280.42 L220.80,280.00 L221.60,279.72 L222.40,280.14 L223.20,279.76 L224.00,278.44 L224.80,278.45 L225.60,278.12 L226.40,277.64 L227.20,278.03 L228.00,277.00 L228.80,276.67 L229.60,276.90 L230.40,276.60 L231.20,275.82 L232.00,274.75 L232.80,275.34 L233.60,275.01 L234.40,273.92 L235.20,274.32 L236.00,273.92 L236.80,272.87 L237.60,272.28 L238.40,272.68 L239.20,272.20 L240.00,271.07 L240.80,270.70 L241.60,270.43 L242.40,269.84 L243.20,269.78 L244.00,269.01 L244.80,269.53 L245.60,268.46 L246.40,268.12 L246.40,283.65 L245.60,283.96 L244.80,284.52 L244.00,284.62 L243.20,285.33 L242.40,285.86 L241.60,286.28 L240.80,287.15 L240.00,286.79 L239.20,287.03 L238.40,287.70 L237.60,287.86 L236.80,288.73 L236.00,288.53 L235.20,289.21 L234.40,289.71 L233.60,290.33 L232.80,290.10 L232.00,291.20 L231.20,290.75 L230.40,291.33 L229.60,291.86 L228.80,291.58 L228.00,292.41 L227.20,292.91 L226.40,292.68 L225.60,293.10 L224.80,294.10 L224.00,294.50 L223.20,293.98 L222.40,294.97 L221.60,295.18 L220.80,294.99 L220.00,296.09 L219.20,295.63 L218.40,296.48 L217.60,296.72 L216.80,296.69 L216.00,297.25 L215.20,297.73 L214.40,298.21 L213.60,297.47 L212.80,298.09 L212.00,298.47 L211.20,298.99 L210.40,298.90 L209.60,299.48 L208.80,299.18 L208.00,299.81 L207.20,299.62 L206.40,300.72 L205.60,300.87 L204.80,301.18 L204.00,300.95 L203.20,301.72 L202.40,300.97 L201.60,301.62 L200.80,302.39 L200.00,301.93 L199.20,302.77 L198.40,302.51 L197.60,302.51 L196.80,302.34 L196.00,303.24 L195.20,303.05 L194.40,303.25 L193.60,303.85 L192.80,303.84 L192.00,304.06 L191.20,304.71 L190.40,304.48 L189.60,304.00 L188.80,304.69 L188.00,305.52 L187.20,305.57 L186.40,305.85 L185.60,305.63 L184.80,305.30 L184.00,305.53 L183.20,306.10 L182.40,306.63 L181.60,306.33 L180.80,306.52 L180.00,307.11 L179.20,306.97 L178.40,307.34 L177.60,307.74 L176.80,307.67 L176.00,307.76 L175.20,308.27 L174.40,308.58 L173.60,308.82 L172.80,308.85 L172.00,309.00 L171.20,309.15 L170.40,309.43 L169.60,309.36 L168.80,309.22 L168.00,309.16 L167.20,310.30 L166.40,309.45 L165.60,310.02 L164.80,309.74 L164.00,310.88 L163.20,310.19 L162.40,310.52 L161.60,310.68 L160.80,311.17 L160.00,311.70 L159.20,310.85 L158.40,311.46 L157.60,311.42 L156.80,311.69 L156.00,312.22 L155.20,312.20 L154.40,312.05 L153.60,312.65 L152.80,313.14 L152.00,312.39 L151.20,312.79 L150.40,312.96 L149.60,312.92 L148.80,313.57 L148.00,313.41 L147.20,314.39 L146.40,313.55 L145.60,313.93 L144.80,314.86 L144.00,314.51 L143.20,314.79 L142.40,314.85 L141.60,315.17 L140.80,315.29 L140.00,315.74 L139.20,315.81 L138.40,316.13 L137.60,316.33 L136.80,315.35 L136.00,316.01 L135.20,316.29 L134.40,316.58 L133.60,316.28 L132.80,317.30 L132.00,316.38 L131.20,317.47 L130.40,317.63 L129.60,317.36 L128.80,317.31 L128.00,318.13 L127.20,317.85 L126.40,318.57 L125.60,318.21 L124.80,318.92 L124.00,319.00 L123.20,318.47 L122.40,319.19 L121.60,319.15 L120.80,319.18 L120.00,319.62 L119.20,319.27 L118.40,320.44 L117.60,320.42 L116.80,320.45 L116.00,319.96 L115.20,320.95 L114.40,320.32 L113.60,320.75 L112.80,320.84 L112.00,321.95 L111.20,321.59 L110.40,321.72 L109.60,322.41 L108.80,321.49 L108.00,322.02 L107.20,322.10 L106.40,322.84 L105.60,322.14 L104.80,322.67 L104.00,322.28 L103.20,322.85 L102.40,322.97 L101.60,322.88 L100.80,323.82 L100.00,323.99 L99.20,323.61 L98.40,324.14 L97.60,324.21 L96.80,324.21 L96.00,324.33 L95.20,323.79 L94.40,324.62 L93.60,324.48 L92.80,324.17 L92.00,324.66 L91.20,324.12 L90.40,324.97 L89.60,324.41 L88.80,324.97 L88.00,325.47 L87.20,324.68 L86.40,325.54 L85.60,324.79 L84.80,325.67 L84.00,325.96 L83.20,325.74 L82.40,326.02 L81.60,325.14 L80.80,326.30 L80.00,325.62 L79.20,325.57 L78.40,325.91 L77.60,326.21 L76.80,325.56 L76.00,325.70 L75.20,326.02 L74.40,325.92 L73.60,326.80 L72.80,326.06 L72.00,326.27 L71.20,326.20 L70.40,326.96 L69.60,326.44 L68.80,327.01 L68.00,327.32 L67.20,326.95 L66.40,327.50 L65.60,326.68 L64.80,326.81 L64.00,327.77 L63.20,327.07 L62.40,326.93 L61.60,327.83 L60.80,327.87 L60.00,327.43 L59.20,327.81 L58.40,327.63 L57.60,327.54 L56.80,328.21 L56.00,328.40 L55.20,328.60 L54.40,327.86 L53.60,328.67 L52.80,328.94 L52.00,329.11 L51.20,329.31 L50.40,328.65 L49.60,328.73 L48.80,329.75 L48.00,329.27 L47.20,329.67 L46.40,329.78 L45.60,329.46 L44.80,329.45 L44.00,330.19 L43.20,330.73 L42.40,330.36 L41.60,330.66 L40.80,330.28 L40.00,330.63 L39.20,330.90 L38.40,331.80 L37.60,332.19 L36.80,332.24 L36.00,332.25 L35.20,332.89 L34.40,332.19 L33.60,333.08 L32.80,333.48 L32.00,334.04 L31.20,333.54 L30.40,334.94 L29.60,334.25 L28.80,334.91 L28.00,335.25 L27.20,335.46 L26.40,335.93 L25.60,336.78 L24.80,337.80 L24.00,338.01 L23.20,338.84 L22.40,338.64 L21.60,340.13 L20.80,340.12 L20.00,340.96 Z" stroke="none" stroke-width="0.00" fill="#c2c2c2" />
<line x1="133.80" y1="225.00" x2="133.80" y2="381.20" stroke="#333" stroke-width="1.20" />
<line x1="131.00" y1="225.00" x2="133.80" y2="225.00" stroke="#333" stroke-width="1.10" />
<line x1="131.00" y1="256.20" x2="133.80" y2="256.20" stroke="#333" stroke-width="1.10" />
<line x1="131.00" y1="287.40" x2="133.80" y2="287.40" stroke="#333" stroke-width="1.10" />
<line x1="131.00" y1="318.70" x2="133.80" y2="318.70" stroke="#333" stroke-width="1.10" />
<line x1="131.00" y1="350.30" x2="133.80" y2="350.30" stroke="#333" stroke-width="1.10" />
<line x1="131.00" y1="381.20" x2="133.80" y2="381.20" stroke="#333" stroke-width="1.10" />
<line x1="20.40" y1="319.00" x2="246.60" y2="319.00" stroke="#333" stroke-width="1.20" />
<line x1="20.40" y1="319.00" x2="20.40" y2="321.40" stroke="#333" stroke-width="1.10" />
<line x1="76.90" y1="319.00" x2="76.90" y2="321.40" stroke="#333" stroke-width="1.10" />
<line x1="190.40" y1="319.00" x2="190.40" y2="321.40" stroke="#333" stroke-width="1.10" />
<line x1="246.60" y1="319.00" x2="246.60" y2="321.40" stroke="#333" stroke-width="1.10" />
<text x="129.20" y="230.30" font-size="12.80" text-anchor="end" fill="#000" stroke="#000" stroke-width="0.20" >6</text>
<text x="129.80" y="386.30" font-size="12.80" text-anchor="end" fill="#000" stroke="#000" stroke-width="0.20" >-4</text>
<text x="7.50" y="317.30" font-size="12.80" text-anchor="start" fill="#000" stroke="#000" stroke-width="0.20" >-100 mV</text>
<text x="237.00" y="333.00" font-size="13.20" text-anchor="start" fill="#000" stroke="#000" stroke-width="0.20" >100</text>
<text transform="translate(128.8,306) rotate(-90)" font-size="13" stroke="#000" stroke-width="0.2">pA/pF</text>
<path d="M20.50,337.44 L21.20,337.16 L21.90,335.69 L22.60,334.40 L23.30,334.03 L24.00,332.31 L24.70,331.62 L25.40,331.51 L26.10,330.10 L26.80,330.31 L27.50,331.08 L28.20,331.62 L28.90,331.33 L29.60,331.75 L30.30,332.09 L31.00,331.41 L31.70,331.74 L32.40,330.42 L33.10,330.88 L33.80,329.92 L34.50,329.20 L35.20,329.13 L35.90,328.44 L36.60,328.87 L37.30,328.13 L38.00,328.70 L38.70,328.16 L39.40,327.74 L40.10,327.44 L40.80,327.74 L41.50,327.13 L42.20,327.80 L42.90,326.77 L43.60,327.12 L44.30,327.04 L45.00,326.59 L45.70,327.08 L46.40,326.50 L47.10,326.70 L47.80,326.47 L48.50,326.04 L49.20,326.01 L49.90,325.52 L50.60,325.50 L51.30,326.17 L52.00,325.40 L52.70,325.66 L53.40,324.85 L54.10,325.25 L54.80,324.86 L55.50,324.88 L56.20,324.49 L56.90,324.06 L57.60,324.21 L58.30,323.96 L59.00,323.70 L59.70,324.27 L60.40,323.61 L61.10,323.63 L61.80,324.10 L62.50,323.82 L63.20,323.82 L63.90,323.68 L64.60,322.69 L65.30,322.75 L66.00,322.35 L66.70,323.03 L67.40,322.92 L68.10,322.45 L68.80,322.43 L69.50,322.65 L70.20,322.62 L70.90,322.01 L71.60,322.66 L72.30,322.00 L73.00,322.28 L73.70,321.69 L74.40,321.57 L75.10,322.48 L75.80,322.23 L76.50,322.16 L77.20,321.32 L77.90,321.28 L78.60,321.40 L79.30,321.41 L80.00,321.51 L80.70,321.57 L81.40,321.13 L82.10,321.43 L82.80,321.80 L83.50,321.22 L84.20,321.99 L84.90,321.63 L85.60,321.78 L86.30,321.20 L87.00,321.38 L87.70,321.65 L88.40,321.22 L89.10,320.76 L89.80,321.73 L90.50,321.62 L91.20,320.99 L91.90,320.66 L92.60,321.59 L93.30,321.24 L94.00,320.52 L94.70,320.70 L95.40,320.49 L96.10,321.25 L96.80,320.49 L97.50,321.26 L98.20,321.00 L98.90,320.13 L99.60,320.78 L100.30,320.34 L101.00,320.68 L101.70,320.69 L102.40,319.94 L103.10,319.62 L103.80,320.56 L104.50,319.84 L105.20,320.35 L105.90,319.97 L106.60,319.93 L107.30,319.94 L108.00,319.60 L108.70,319.29 L109.40,318.71 L110.10,319.38 L110.80,318.95 L111.50,318.95 L112.20,319.34 L112.90,318.27 L113.60,318.92 L114.30,317.95 L115.00,318.63 L115.70,318.64 L116.40,317.87 L117.10,318.10 L117.80,318.49 L118.50,317.97 L119.20,317.74 L119.90,317.27 L120.60,316.92 L121.30,317.15 L122.00,317.09 L122.70,316.71 L123.40,316.71 L124.10,316.38 L124.80,316.93 L125.50,316.75 L126.20,316.10 L126.90,315.97 L127.60,316.16 L128.30,315.94 L129.00,316.39 L129.70,315.54 L130.40,315.34 L131.10,315.89 L131.80,314.85 L132.50,315.21 L133.20,314.78 L133.90,315.20 L134.60,314.72 L135.30,314.81 L136.00,313.93 L136.70,314.36 L137.40,314.10 L138.10,313.75 L138.80,313.94 L139.50,313.83 L140.20,312.77 L140.90,312.79 L141.60,312.67 L142.30,312.29 L143.00,311.91 L143.70,311.96 L144.40,311.65 L145.10,312.04 L145.80,311.52 L146.50,310.90 L147.20,310.93 L147.90,310.89 L148.60,310.53 L149.30,310.07 L150.00,309.73 L150.70,309.43 L151.40,310.38 L152.10,309.86 L152.80,308.82 L153.50,309.35 L154.20,309.44 L154.90,308.71 L155.60,307.93 L156.30,308.16 L157.00,307.86 L157.70,307.35 L158.40,307.55 L159.10,306.69 L159.80,307.56 L160.50,307.02 L161.20,306.79 L161.90,306.95 L162.60,306.40 L163.30,305.71 L164.00,305.49 L164.70,305.15 L165.40,304.81 L166.10,305.49 L166.80,305.36 L167.50,304.50 L168.20,304.15 L168.90,304.48 L169.60,304.52 L170.30,304.40 L171.00,303.27 L171.70,303.79 L172.40,303.63 L173.10,303.30 L173.80,302.58 L174.50,302.18 L175.20,302.73 L175.90,301.89 L176.60,301.71 L177.30,301.70 L178.00,301.24 L178.70,301.55 L179.40,300.60 L180.10,300.11 L180.80,300.50 L181.50,300.32 L182.20,300.31 L182.90,299.92 L183.60,299.92 L184.30,299.72 L185.00,298.94 L185.70,298.71 L186.40,298.06 L187.10,298.00 L187.80,298.11 L188.50,297.28 L189.20,297.78 L189.90,296.93 L190.60,297.05 L191.30,297.46 L192.00,296.20 L192.70,295.93 L193.40,296.21 L194.10,295.71 L194.80,296.15 L195.50,295.09 L196.20,295.90 L196.90,295.73 L197.60,295.45 L198.30,294.83 L199.00,294.46 L199.70,294.72 L200.40,294.35 L201.10,294.04 L201.80,293.75 L202.50,293.67 L203.20,293.74 L203.90,293.73 L204.60,293.62 L205.30,292.53 L206.00,292.47 L206.70,292.44 L207.40,292.36 L208.10,291.89 L208.80,291.48 L209.50,291.12 L210.20,291.18 L210.90,291.11 L211.60,291.48 L212.30,291.17 L213.00,290.87 L213.70,290.75 L214.40,290.48 L215.10,289.81 L215.80,289.77 L216.50,288.60 L217.20,289.06 L217.90,288.70 L218.60,288.05 L219.30,288.09 L220.00,288.26 L220.70,287.41 L221.40,287.32 L222.10,286.61 L222.80,286.37 L223.50,286.72 L224.20,285.39 L224.90,285.29 L225.60,285.58 L226.30,285.00 L227.00,284.26 L227.70,284.65 L228.40,284.00 L229.10,283.94 L229.80,283.44 L230.50,283.27 L231.20,283.00 L231.90,282.49 L232.60,281.85 L233.30,281.61 L234.00,282.16 L234.70,281.43 L235.40,280.60 L236.10,281.19 L236.80,280.15 L237.50,279.64 L238.20,279.85 L238.90,279.21 L239.60,279.18 L240.30,278.94 L241.00,278.24 L241.70,278.34 L242.40,277.47 L243.10,277.64 L243.80,277.42 L244.50,276.50 L245.20,276.58 L245.90,275.87 L246.60,276.00" stroke="#000" stroke-width="2.30" fill="none" />
<path d="M20.00,336.73 L20.70,335.10 L21.40,333.91 L22.10,332.68 L22.80,330.95 L23.50,330.67 L24.20,329.31 L24.90,327.74 L25.60,327.58 L26.30,326.56 L27.00,325.90 L27.70,326.27 L28.40,325.64 L29.10,325.62 L29.80,324.87 L30.50,325.31 L31.20,324.54 L31.90,324.58 L32.60,324.59 L33.30,324.16 L34.00,324.56 L34.70,324.10 L35.40,324.05 L36.10,324.29 L36.80,323.91 L37.50,324.20 L38.20,323.83 L38.90,323.94 L39.60,323.54 L40.30,323.74 L41.00,323.58 L41.70,322.83 L42.40,323.24 L43.10,322.77 L43.80,323.04 L44.50,322.87 L45.20,322.90 L45.90,322.17 L46.60,322.30 L47.30,322.53 L48.00,322.64 L48.70,322.35 L49.40,321.66 L50.10,322.08 L50.80,321.56 L51.50,321.89 L52.20,322.06 L52.90,321.38 L53.60,322.05 L54.30,321.77 L55.00,321.34 L55.70,321.23 L56.40,321.41 L57.10,321.72 L57.80,321.44 L58.50,320.97 L59.20,320.84 L59.90,320.88 L60.60,321.46 L61.30,320.86 L62.00,321.15 L62.70,320.86 L63.40,321.17 L64.10,320.85 L64.80,320.59 L65.50,321.20 L66.20,320.85 L66.90,320.93 L67.60,320.98 L68.30,321.05 L69.00,320.15 L69.70,320.38 L70.40,320.15 L71.10,320.40 L71.80,320.66 L72.50,320.52 L73.20,319.75 L73.90,319.81 L74.60,320.30 L75.30,320.09 L76.00,319.75 L76.70,319.74 L77.40,319.37 L78.10,319.90 L78.80,319.41 L79.50,319.75 L80.20,319.43 L80.90,318.86 L81.60,319.00 L82.30,318.81 L83.00,319.34 L83.70,318.98 L84.40,318.41 L85.10,318.45 L85.80,318.54 L86.50,318.56 L87.20,318.59 L87.90,318.36 L88.60,318.27 L89.30,317.90 L90.00,318.37 L90.70,318.12 L91.40,317.81 L92.10,318.19 L92.80,318.66 L93.50,317.82 L94.20,317.94 L94.90,318.44 L95.60,318.13 L96.30,318.19 L97.00,318.46 L97.70,318.32 L98.40,318.68 L99.10,318.73 L99.80,319.19 L100.50,319.31 L101.20,318.63 L101.90,319.48 L102.60,319.78 L103.30,319.79 L104.00,319.51 L104.70,319.11 L105.40,318.83 L106.10,318.34 L106.80,318.05 L107.50,318.32 L108.20,318.22 L108.90,318.12 L109.60,317.74 L110.30,317.27 L111.00,317.55 L111.70,317.40 L112.40,317.07 L113.10,317.06 L113.80,316.68 L114.50,316.74 L115.20,316.49 L115.90,316.07 L116.60,316.20 L117.30,316.07 L118.00,316.55 L118.70,315.98 L119.40,315.77 L120.10,315.54 L120.80,315.42 L121.50,315.41 L122.20,315.10 L122.90,314.88 L123.60,315.54 L124.30,315.05 L125.00,314.93 L125.70,314.93 L126.40,314.58 L127.10,314.34 L127.80,314.14 L128.50,314.23 L129.20,314.13 L129.90,314.39 L130.60,314.11 L131.30,314.35 L132.00,313.69 L132.70,314.10 L133.40,313.68 L134.10,313.11 L134.80,313.08 L135.50,313.32 L136.20,313.57 L136.90,312.88 L137.60,313.14 L138.30,312.72 L139.00,313.00 L139.70,312.16 L140.40,312.42 L141.10,312.68 L141.80,312.00 L142.50,311.87 L143.20,311.54 L143.90,311.56 L144.60,311.53 L145.30,311.81 L146.00,311.26 L146.70,311.30 L147.40,311.01 L148.10,311.25 L148.80,311.37 L149.50,311.06 L150.20,310.53 L150.90,310.89 L151.60,310.98 L152.30,310.53 L153.00,309.94 L153.70,310.47 L154.40,310.41 L155.10,309.80 L155.80,309.49 L156.50,309.40 L157.20,309.59 L157.90,309.76 L158.60,309.41 L159.30,309.52 L160.00,308.74 L160.70,308.70 L161.40,308.92 L162.10,308.68 L162.80,308.30 L163.50,308.38 L164.20,307.90 L164.90,307.48 L165.60,307.62 L166.30,307.10 L167.00,307.43 L167.70,306.97 L168.40,306.91 L169.10,306.80 L169.80,306.29 L170.50,306.27 L171.20,305.66 L171.90,306.27 L172.60,305.74 L173.30,305.92 L174.00,304.88 L174.70,305.19 L175.40,305.09 L176.10,304.55 L176.80,304.14 L177.50,304.01 L178.20,303.81 L178.90,304.18 L179.60,303.38 L180.30,303.84 L181.00,303.29 L181.70,303.20 L182.40,303.05 L183.10,302.83 L183.80,302.72 L184.50,302.48 L185.20,302.03 L185.90,302.20 L186.60,301.57 L187.30,301.77 L188.00,301.62 L188.70,301.43 L189.40,300.80 L190.10,301.02 L190.80,301.00 L191.50,300.33 L192.20,299.98 L192.90,300.02 L193.60,300.21 L194.30,299.30 L195.00,299.00 L195.70,299.24 L196.40,299.22 L197.10,299.15 L197.80,298.60 L198.50,298.98 L199.20,298.11 L199.90,298.41 L200.60,297.62 L201.30,297.37 L202.00,297.28 L202.70,297.02 L203.40,297.22 L204.10,297.07 L204.80,296.53 L205.50,297.00 L206.20,296.27 L206.90,295.86 L207.60,295.67 L208.30,295.94 L209.00,295.88 L209.70,294.96 L210.40,294.60 L211.10,295.03 L211.80,294.29 L212.50,294.70 L213.20,294.00 L213.90,293.86 L214.60,293.32 L215.30,293.45 L216.00,292.85 L216.70,292.43 L217.40,292.65 L218.10,291.63 L218.80,291.88 L219.50,290.96 L220.20,291.16 L220.90,290.62 L221.60,290.71 L222.30,289.66 L223.00,289.78 L223.70,289.31 L224.40,289.43 L225.10,289.12 L225.80,288.49 L226.50,287.79 L227.20,287.47 L227.90,287.14 L228.60,286.95 L229.30,286.42 L230.00,286.05 L230.70,286.20 L231.40,285.74 L232.10,285.08 L232.80,285.36 L233.50,284.30 L234.20,284.27 L234.90,283.54 L235.60,283.82 L236.30,283.47 L237.00,282.57 L237.70,282.65 L238.40,282.36 L239.10,281.51 L239.80,281.20 L240.50,280.98 L241.20,280.99 L241.90,279.97 L242.60,280.08 L243.30,279.65 L244.00,279.16 L244.70,278.92 L245.40,278.84 L246.10,277.88 L246.80,278.14" stroke="#ff0a0a" stroke-width="2.60" fill="none" />
<rect x="7.90" y="237.30" width="101.90" height="23.70" fill="#fff" stroke="#6e6e6e" stroke-width="1"/>
<line x1="10.20" y1="244.10" x2="19.90" y2="244.10" stroke="#000" stroke-width="2.20" />
<line x1="10.20" y1="251.80" x2="19.90" y2="251.80" stroke="#ff0a0a" stroke-width="2.20" />
<text x="22.20" y="247.30" font-size="7.60" text-anchor="start" fill="#000" stroke="#000" stroke-width="0.00" >ES-1Ca+100 μM His</text>
<text x="22.20" y="255.00" font-size="7.50" text-anchor="start" fill="#000" stroke="#000" stroke-width="0.00" >NMDG<tspan font-size="60%" dy="-3">+</tspan><tspan dy="3">-0Ca+100 μM His</tspan></text>
<text x="177.00" y="344.00" font-size="7.50" text-anchor="start" fill="#000" stroke="#000" stroke-width="0.00" >100 μM His</text>
<line x1="153.00" y1="346.40" x2="232.00" y2="346.40" stroke="#1a1a1a" stroke-width="1.10" />
<line x1="144.00" y1="350.40" x2="232.00" y2="350.40" stroke="#555" stroke-width="0.60" stroke-dasharray="1,1.3"/>
<path d="M144.00,353.92 L145.20,354.17 L146.40,354.22 L147.60,353.81 L148.80,354.22 L150.00,354.30 L151.20,353.88 L152.40,353.71 L153.60,353.77 L154.80,354.28 L156.00,353.71 L157.20,354.25 L158.40,353.79 L159.60,354.14 L160.80,353.76 L162.00,353.80 L163.20,354.11 L164.40,353.75 L165.60,353.90 L166.80,354.25 L168.00,354.13 L169.20,354.23 L170.40,354.29 L171.60,353.72 L172.80,353.84 L174.00,354.18 L175.20,354.11 L176.40,353.72 L177.60,354.00 L178.80,353.84 L180.00,353.96 L181.20,353.76 L182.40,353.71 L183.60,354.29 L184.80,353.89 L186.00,353.73 L187.20,352.67 L188.40,352.29 L189.60,351.48 L190.80,351.43 L192.00,351.25 L193.20,351.52 L194.40,351.16 L195.60,351.47 L196.80,351.30 L198.00,351.03 L199.20,351.14 L200.40,351.20 L201.60,351.46 L202.80,351.12 L204.00,351.05 L205.20,351.50 L206.40,351.46 L207.60,351.37 L208.80,351.10 L210.00,351.05 L211.20,351.11 L212.40,351.00 L213.60,350.99 L214.80,351.27 L216.00,351.22 L217.20,351.31 L218.40,351.20 L219.60,351.00 L220.80,351.41 L222.00,351.39 L223.20,351.81 L224.40,352.29 L225.60,352.31 L226.80,351.89 L228.00,351.22 L229.20,351.13 L230.40,350.94 L231.60,350.89" stroke="#111" stroke-width="1.20" fill="none" />
<text x="188.00" y="367.60" font-size="7.50" text-anchor="start" fill="#000" stroke="#000" stroke-width="0.00" >NMDG<tspan font-size="60%" dy="-3">+</tspan><tspan dy="3">-0Ca</tspan></text>
<line x1="184.40" y1="368.60" x2="232.40" y2="368.60" stroke="#1a1a1a" stroke-width="1.10" />
<line x1="233.00" y1="373.00" x2="233.00" y2="390.30" stroke="#1a1a1a" stroke-width="1.10" />
<line x1="232.50" y1="390.00" x2="243.00" y2="390.00" stroke="#1a1a1a" stroke-width="1.10" />
<text x="232.40" y="385.50" font-size="7.50" text-anchor="end" fill="#000" stroke="#000" stroke-width="0.00" >40 pA</text>
<text x="232.00" y="397.50" font-size="7.50" text-anchor="start" fill="#000" stroke="#000" stroke-width="0.00" >20 s</text>
<text x="275.60" y="213.40" font-size="16.00" text-anchor="start" fill="#000" stroke="#000" stroke-width="0.00" >D</text>
<line x1="342.20" y1="223.20" x2="342.20" y2="395.00" stroke="#222" stroke-width="1.20" />
<line x1="339.50" y1="223.20" x2="342.20" y2="223.20" stroke="#222" stroke-width="1.10" />
<text x="337.60" y="227.60" font-size="12.50" text-anchor="end" fill="#000" stroke="#000" stroke-width="0.20" >800</text>
<line x1="339.50" y1="250.40" x2="342.20" y2="250.40" stroke="#222" stroke-width="1.10" />
<text x="337.60" y="254.80" font-size="12.50" text-anchor="end" fill="#000" stroke="#000" stroke-width="0.20" >600</text>
<line x1="339.50" y1="277.60" x2="342.20" y2="277.60" stroke="#222" stroke-width="1.10" />
<text x="337.60" y="282.00" font-size="12.50" text-anchor="end" fill="#000" stroke="#000" stroke-width="0.20" >400</text>
<line x1="339.50" y1="304.80" x2="342.20" y2="304.80" stroke="#222" stroke-width="1.10" />
<text x="337.60" y="309.20" font-size="12.50" text-anchor="end" fill="#000" stroke="#000" stroke-width="0.20" >200</text>
<line x1="339.50" y1="332.00" x2="342.20" y2="332.00" stroke="#222" stroke-width="1.10" />
<text x="337.60" y="336.40" font-size="12.50" text-anchor="end" fill="#000" stroke="#000" stroke-width="0.20" >0</text>
<line x1="339.50" y1="359.20" x2="342.20" y2="359.20" stroke="#222" stroke-width="1.10" />
<text x="337.60" y="363.60" font-size="12.50" text-anchor="end" fill="#000" stroke="#000" stroke-width="0.20" >-200</text>
<line x1="339.50" y1="387.00" x2="342.20" y2="387.00" stroke="#222" stroke-width="1.10" />
<text x="337.60" y="391.40" font-size="12.50" text-anchor="end" fill="#000" stroke="#000" stroke-width="0.20" >-400</text>
<text transform="translate(305.5,390.5) rotate(-90)" font-size="13" stroke="#000" stroke-width="0.2">Peak Current Density (pA/pF)</text>
<line x1="342.20" y1="332.40" x2="527.00" y2="332.40" stroke="#444" stroke-width="0.80" stroke-dasharray="1.2,1.8"/>
<path d="M367.40,218.30 L367.40,215.80 L497.50,215.80 L497.50,218.30" stroke="#222" stroke-width="1.20" fill="none" />
<text x="435.20" y="212.70" font-size="10.40" text-anchor="middle" fill="#000" stroke="#000" stroke-width="0.12" >p &lt; 0.001</text>
<path d="M367.40,232.90 L367.40,230.40 L430.50,230.40 L430.50,232.90" stroke="#222" stroke-width="1.20" fill="none" />
<text x="401.50" y="227.00" font-size="10.40" text-anchor="middle" fill="#000" stroke="#000" stroke-width="0.12" >p &lt; 0.001</text>
<path d="M430.50,241.10 L430.50,238.60 L497.50,238.60 L497.50,241.10" stroke="#222" stroke-width="1.20" fill="none" />
<text x="463.50" y="235.50" font-size="10.40" text-anchor="middle" fill="#000" stroke="#000" stroke-width="0.12" >p &gt; 0.05</text>
<path d="M430.50,352.70 L430.50,356.20 L497.50,356.20 L497.50,352.70" stroke="#222" stroke-width="1.20" fill="none" />
<text x="461.70" y="367.40" font-size="10.40" text-anchor="middle" fill="#000" stroke="#000" stroke-width="0.12" >p &gt; 0.05</text>
<path d="M367.40,370.50 L367.40,374.00 L497.50,374.00 L497.50,370.50" stroke="#222" stroke-width="1.20" fill="none" />
<text x="431.50" y="384.00" font-size="10.40" text-anchor="middle" fill="#000" stroke="#000" stroke-width="0.12" >p &lt; 0.001</text>
<path d="M367.40,386.50 L367.40,390.00 L430.50,390.00 L430.50,386.50" stroke="#222" stroke-width="1.20" fill="none" />
<text x="400.20" y="400.00" font-size="10.40" text-anchor="middle" fill="#000" stroke="#000" stroke-width="0.12" >p &lt; 0.001</text>
<rect x="461.5" y="252.2" width="35.2" height="21.1" fill="#fff" stroke="#a0a0a0" stroke-width="1"/>
<circle cx="466.6" cy="258" r="2.1" fill="#8a8a8a"/>
<circle cx="466.6" cy="267.3" r="2.1" fill="#000"/>
<text x="470.00" y="260.80" font-size="7.60" text-anchor="start" fill="#000" stroke="#000" stroke-width="0.00" >100 mV</text>
<text x="470.00" y="269.80" font-size="7.60" text-anchor="start" fill="#000" stroke="#000" stroke-width="0.00" >-60 mV</text>
<circle cx="365.00" cy="241.20" r="2.15" fill="#8c8c8c" stroke="#666" stroke-width="0.6"/>
<circle cx="369.80" cy="243.30" r="2.15" fill="#8c8c8c" stroke="#666" stroke-width="0.6"/>
<circle cx="367.50" cy="256.80" r="2.15" fill="#8c8c8c" stroke="#666" stroke-width="0.6"/>
<circle cx="367.50" cy="265.50" r="2.15" fill="#8c8c8c" stroke="#666" stroke-width="0.6"/>
<circle cx="367.50" cy="282.60" r="2.15" fill="#8c8c8c" stroke="#666" stroke-width="0.6"/>
<circle cx="367.50" cy="295.00" r="2.15" fill="#8c8c8c" stroke="#666" stroke-width="0.6"/>
<circle cx="362.70" cy="302.30" r="2.15" fill="#8c8c8c" stroke="#666" stroke-width="0.6"/>
<circle cx="372.30" cy="305.70" r="2.15" fill="#8c8c8c" stroke="#666" stroke-width="0.6"/>
<circle cx="362.70" cy="307.60" r="2.15" fill="#8c8c8c" stroke="#666" stroke-width="0.6"/>
<circle cx="372.30" cy="312.70" r="2.15" fill="#8c8c8c" stroke="#666" stroke-width="0.6"/>
<circle cx="362.70" cy="312.30" r="2.15" fill="#8c8c8c" stroke="#666" stroke-width="0.6"/>
<circle cx="357.70" cy="315.20" r="2.15" fill="#8c8c8c" stroke="#666" stroke-width="0.6"/>
<circle cx="362.70" cy="317.00" r="2.15" fill="#8c8c8c" stroke="#666" stroke-width="0.6"/>
<circle cx="367.30" cy="316.10" r="2.15" fill="#8c8c8c" stroke="#666" stroke-width="0.6"/>
<circle cx="373.60" cy="317.70" r="2.15" fill="#8c8c8c" stroke="#666" stroke-width="0.6"/>
<circle cx="369.50" cy="319.10" r="2.15" fill="#8c8c8c" stroke="#666" stroke-width="0.6"/>
<circle cx="365.00" cy="321.80" r="2.15" fill="#8c8c8c" stroke="#666" stroke-width="0.6"/>
<circle cx="370.00" cy="323.20" r="2.15" fill="#8c8c8c" stroke="#666" stroke-width="0.6"/>
<circle cx="362.30" cy="326.80" r="2.15" fill="#8c8c8c" stroke="#666" stroke-width="0.6"/>
<circle cx="367.30" cy="328.20" r="2.15" fill="#8c8c8c" stroke="#666" stroke-width="0.6"/>
<circle cx="372.30" cy="327.70" r="2.15" fill="#8c8c8c" stroke="#666" stroke-width="0.6"/>
<line x1="367.50" y1="297.30" x2="367.50" y2="309.40" stroke="#3a3aff" stroke-width="0.80" />
<line x1="365.20" y1="297.30" x2="370.00" y2="297.30" stroke="#3a3aff" stroke-width="0.80" />
<line x1="365.20" y1="309.40" x2="370.00" y2="309.40" stroke="#3a3aff" stroke-width="0.80" />
<circle cx="367.5" cy="303.2" r="2.5" fill="#1010ff"/>
<circle cx="359.10" cy="334.00" r="2.15" fill="#000"/>
<circle cx="367.30" cy="333.70" r="2.15" fill="#000"/>
<circle cx="377.10" cy="333.50" r="2.15" fill="#000"/>
<circle cx="362.90" cy="335.90" r="2.15" fill="#000"/>
<circle cx="372.20" cy="335.60" r="2.15" fill="#000"/>
<circle cx="360.70" cy="338.40" r="2.15" fill="#000"/>
<circle cx="379.80" cy="337.30" r="2.15" fill="#000"/>
<circle cx="356.40" cy="339.50" r="2.15" fill="#000"/>
<circle cx="374.90" cy="338.90" r="2.15" fill="#000"/>
<circle cx="352.50" cy="341.60" r="2.15" fill="#000"/>
<circle cx="362.90" cy="340.50" r="2.15" fill="#000"/>
<circle cx="377.10" cy="341.10" r="2.15" fill="#000"/>
<circle cx="382.50" cy="340.20" r="2.15" fill="#000"/>
<circle cx="386.30" cy="340.20" r="2.15" fill="#000"/>
<circle cx="372.20" cy="345.40" r="2.15" fill="#000"/>
<circle cx="362.90" cy="347.60" r="2.15" fill="#000"/>
<circle cx="370.00" cy="350.40" r="2.15" fill="#000"/>
<circle cx="365.10" cy="353.30" r="2.15" fill="#000"/>
<circle cx="365.10" cy="357.40" r="2.15" fill="#000"/>
<circle cx="370.00" cy="357.20" r="2.15" fill="#000"/>
<circle cx="367.80" cy="365.60" r="2.15" fill="#000"/>
<rect x="365.4" y="341.1" width="4.4" height="4.4" fill="#ff1010"/>
<circle cx="411.40" cy="332.60" r="2.15" fill="#8c8c8c"/>
<circle cx="415.70" cy="332.60" r="2.15" fill="#000"/>
<circle cx="423.00" cy="331.00" r="2.15" fill="#8c8c8c"/>
<circle cx="420.50" cy="332.60" r="2.15" fill="#000"/>
<circle cx="425.50" cy="332.60" r="2.15" fill="#000"/>
<circle cx="435.00" cy="329.10" r="2.15" fill="#8c8c8c"/>
<circle cx="437.40" cy="333.80" r="2.15" fill="#000"/>
<circle cx="442.00" cy="332.60" r="2.15" fill="#000"/>
<circle cx="447.30" cy="332.60" r="2.15" fill="#8c8c8c"/>
<circle cx="430.2" cy="332.6" r="2.2" fill="#7040c0" stroke="#ff3030" stroke-width="0.7"/>
<circle cx="470.80" cy="332.3" r="2.15" fill="#8c8c8c"/>
<circle cx="473.50" cy="332.3" r="2.15" fill="#8c8c8c"/>
<circle cx="481.70" cy="332.3" r="2.15" fill="#8c8c8c"/>
<circle cx="478.60" cy="332.3" r="2.15" fill="#000"/>
<circle cx="489.00" cy="332.3" r="2.15" fill="#8c8c8c"/>
<circle cx="485.60" cy="332.3" r="2.15" fill="#000"/>
<circle cx="492.40" cy="332.3" r="2.15" fill="#000"/>
<circle cx="504.00" cy="332.3" r="2.15" fill="#8c8c8c"/>
<circle cx="501.50" cy="332.3" r="2.15" fill="#000"/>
<circle cx="511.00" cy="332.3" r="2.15" fill="#8c8c8c"/>
<circle cx="508.10" cy="332.3" r="2.15" fill="#000"/>
<circle cx="518.20" cy="332.3" r="2.15" fill="#8c8c8c"/>
<circle cx="514.40" cy="332.3" r="2.15" fill="#000"/>
<circle cx="522.00" cy="332.3" r="2.15" fill="#000"/>
<circle cx="496.4" cy="332.3" r="1.9" fill="#6040d0" stroke="#ff2020" stroke-width="0.9"/>
<text transform="translate(375.50,407.00) rotate(-45)" font-size="10.8" text-anchor="end" stroke="#000" stroke-width="0.2">TRPC5-TRPC1</text>
<text transform="translate(384.00,415.00) rotate(-45)" font-size="10.8" text-anchor="end" stroke="#000" stroke-width="0.2">+TRPC5</text>
<text transform="translate(438.30,407.00) rotate(-45)" font-size="10.8" text-anchor="end" stroke="#000" stroke-width="0.2">TRPC5-TRPC1</text>
<text transform="translate(448.30,415.50) rotate(-45)" font-size="10.8" text-anchor="end" stroke="#000" stroke-width="0.2">+pcDNA3</text>
<text transform="translate(504.40,407.00) rotate(-45)" font-size="10.8" text-anchor="end" stroke="#000" stroke-width="0.2">TRPC5-TRPC1</text>
<text transform="translate(514.40,415.50) rotate(-45)" font-size="10.8" text-anchor="end" stroke="#000" stroke-width="0.2">+TRPC1</text>
</svg>
</body></html>
